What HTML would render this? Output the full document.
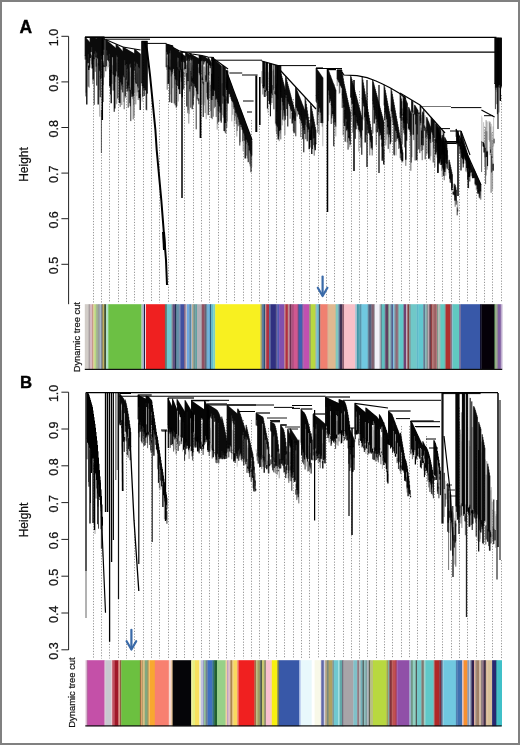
<!DOCTYPE html><html><head><meta charset="utf-8"><title>Dendrogram</title><style>html,body{margin:0;padding:0;background:#fff;overflow:hidden}svg{display:block;filter:blur(0.4px)}</style></head><body><svg width="520" height="745" viewBox="0 0 520 745">
<style>.tk{font-family:"Liberation Sans",Arial,sans-serif;font-size:12.5px;text-anchor:middle;fill:#111;stroke:#111;stroke-width:0.25px}.lb{font-family:"Liberation Sans",Arial,sans-serif;font-size:12px;text-anchor:middle;fill:#111;stroke:#111;stroke-width:0.25px}.dt{font-family:"Liberation Sans",Arial,sans-serif;font-size:9.4px;text-anchor:middle;fill:#111;stroke:#111;stroke-width:0.2px}.pl{font-family:"Liberation Sans",Arial,sans-serif;font-size:17.5px;font-weight:bold;fill:#000;stroke:#000;stroke-width:0.35px}.g{stroke:#959595;stroke-width:1;stroke-dasharray:1.2 1.57}</style>
<rect x="0" y="0" width="520" height="745" fill="#fff"/>
<line x1="68.6" y1="36.3" x2="68.6" y2="304.2" stroke="#222" stroke-width="1"/>
<line x1="61.39999999999999" y1="36.30" x2="68.6" y2="36.30" stroke="#222" stroke-width="1"/>
<text x="0" y="0" class="tk" transform="translate(57.8,37.50) rotate(-90)">1.0</text>
<line x1="61.39999999999999" y1="81.90" x2="68.6" y2="81.90" stroke="#222" stroke-width="1"/>
<text x="0" y="0" class="tk" transform="translate(57.8,83.10) rotate(-90)">0.9</text>
<line x1="61.39999999999999" y1="127.50" x2="68.6" y2="127.50" stroke="#222" stroke-width="1"/>
<text x="0" y="0" class="tk" transform="translate(57.8,128.70) rotate(-90)">0.8</text>
<line x1="61.39999999999999" y1="173.10" x2="68.6" y2="173.10" stroke="#222" stroke-width="1"/>
<text x="0" y="0" class="tk" transform="translate(57.8,174.30) rotate(-90)">0.7</text>
<line x1="61.39999999999999" y1="218.70" x2="68.6" y2="218.70" stroke="#222" stroke-width="1"/>
<text x="0" y="0" class="tk" transform="translate(57.8,219.90) rotate(-90)">0.6</text>
<line x1="61.39999999999999" y1="264.30" x2="68.6" y2="264.30" stroke="#222" stroke-width="1"/>
<text x="0" y="0" class="tk" transform="translate(57.8,265.50) rotate(-90)">0.5</text>
<text class="pl" x="19.6" y="32.6">A</text>
<text class="lb" transform="translate(28.2,164.5) rotate(-90)">Height</text>
<text class="dt" transform="translate(79.6,337.2) rotate(-90)">Dynamic tree cut</text>
<line x1="93.5" y1="52.0" x2="93.5" y2="302.5" class="g"/>
<line x1="101.5" y1="52.0" x2="101.5" y2="302.5" class="g"/>
<line x1="109.5" y1="56.4" x2="109.5" y2="302.5" class="g"/>
<line x1="118.5" y1="59.9" x2="118.5" y2="302.5" class="g"/>
<line x1="126.5" y1="62.6" x2="126.5" y2="302.5" class="g"/>
<line x1="134.5" y1="64.0" x2="134.5" y2="302.5" class="g"/>
<line x1="143.5" y1="56.4" x2="143.5" y2="302.5" class="g"/>
<line x1="151.5" y1="92.0" x2="151.5" y2="302.5" class="g"/>
<line x1="159.5" y1="100.0" x2="159.5" y2="302.5" class="g"/>
<line x1="168.5" y1="59.6" x2="168.5" y2="302.5" class="g"/>
<line x1="176.5" y1="64.4" x2="176.5" y2="302.5" class="g"/>
<line x1="184.5" y1="67.2" x2="184.5" y2="302.5" class="g"/>
<line x1="193.5" y1="69.2" x2="193.5" y2="302.5" class="g"/>
<line x1="201.5" y1="70.4" x2="201.5" y2="302.5" class="g"/>
<line x1="209.5" y1="72.1" x2="209.5" y2="302.5" class="g"/>
<line x1="218.5" y1="76.9" x2="218.5" y2="302.5" class="g"/>
<line x1="226.5" y1="82.9" x2="226.5" y2="302.5" class="g"/>
<line x1="234.5" y1="108.6" x2="234.5" y2="302.5" class="g"/>
<line x1="243.5" y1="131.0" x2="243.5" y2="302.5" class="g"/>
<line x1="251.5" y1="120.0" x2="251.5" y2="302.5" class="g"/>
<line x1="259.5" y1="112.0" x2="259.5" y2="302.5" class="g"/>
<line x1="268.5" y1="77.8" x2="268.5" y2="302.5" class="g"/>
<line x1="276.5" y1="80.1" x2="276.5" y2="302.5" class="g"/>
<line x1="284.5" y1="90.1" x2="284.5" y2="302.5" class="g"/>
<line x1="293.5" y1="99.1" x2="293.5" y2="302.5" class="g"/>
<line x1="301.5" y1="108.2" x2="301.5" y2="302.5" class="g"/>
<line x1="309.5" y1="117.2" x2="309.5" y2="302.5" class="g"/>
<line x1="318.5" y1="83.0" x2="318.5" y2="302.5" class="g"/>
<line x1="326.5" y1="125.0" x2="326.5" y2="302.5" class="g"/>
<line x1="334.5" y1="84.6" x2="334.5" y2="302.5" class="g"/>
<line x1="343.5" y1="88.5" x2="343.5" y2="302.5" class="g"/>
<line x1="351.5" y1="90.3" x2="351.5" y2="302.5" class="g"/>
<line x1="359.5" y1="91.2" x2="359.5" y2="302.5" class="g"/>
<line x1="367.5" y1="93.1" x2="367.5" y2="302.5" class="g"/>
<line x1="376.5" y1="96.1" x2="376.5" y2="302.5" class="g"/>
<line x1="384.5" y1="100.0" x2="384.5" y2="302.5" class="g"/>
<line x1="392.5" y1="104.5" x2="392.5" y2="302.5" class="g"/>
<line x1="401.5" y1="108.8" x2="401.5" y2="302.5" class="g"/>
<line x1="409.5" y1="113.8" x2="409.5" y2="302.5" class="g"/>
<line x1="417.5" y1="118.8" x2="417.5" y2="302.5" class="g"/>
<line x1="426.5" y1="127.0" x2="426.5" y2="302.5" class="g"/>
<line x1="434.5" y1="136.4" x2="434.5" y2="302.5" class="g"/>
<line x1="442.5" y1="145.0" x2="442.5" y2="302.5" class="g"/>
<line x1="451.5" y1="181.9" x2="451.5" y2="302.5" class="g"/>
<line x1="459.5" y1="152.0" x2="459.5" y2="302.5" class="g"/>
<line x1="467.5" y1="164.4" x2="467.5" y2="302.5" class="g"/>
<line x1="476.5" y1="189.3" x2="476.5" y2="302.5" class="g"/>
<line x1="484.5" y1="126.7" x2="484.5" y2="302.5" class="g"/>
<line x1="492.5" y1="132.0" x2="492.5" y2="302.5" class="g"/>
<line x1="501.5" y1="95.0" x2="501.5" y2="302.5" class="g"/>
<path d="M90.8 52.3V56.3M106.8 51.8V65.5M107.8 61.8V69.4M112.2 64.7V73.2M127.2 72.3V82.1M134.2 76.2V97.2M136.8 73.4V84.7M137.2 72.7V85.8M181.2 64.1V67.8M201.8 65.5V77.0M205.2 62.8V75.4M209.2 71.5V80.6M211.8 65.4V74.2M221.8 84.1V112.2M225.8 70.0V96.7M265.4 67.6V90.8M268.9 64.7V83.6M274.4 75.4V91.7M276.4 68.9V86.5M424.2 116.6V125.1M424.8 115.1V126.8M481.6 115.7V141.7M482.1 117.5V142.3M487.6 131.4V151.9M492.6 133.9V161.2" stroke="#bbb" stroke-width="0.6" fill="none"/>
<path d="M96.8 55.8V59.3M102.2 60.1V61.6M103.8 51.7V66.1M115.8 75.1V82.0M130.8 76.5V90.6M170.2 59.5V68.5M170.8 69.8V94.4M172.8 70.0V88.2M174.8 75.5V84.7M178.2 60.9V67.5M186.2 62.7V71.2M202.2 65.1V78.0M203.8 66.8V83.8M204.8 66.9V75.2M204.8 74.7V102.6M205.8 67.7V76.0M267.9 71.5V91.6M268.4 72.4V91.5M272.9 71.0V86.4M283.8 109.7V116.9M290.8 109.1V110.8M296.2 107.1V115.7M299.8 118.4V123.5M302.2 124.7V131.1M345.8 118.2V132.4M385.2 111.8V113.3M389.8 134.3V152.9M402.8 160.2V163.0M402.2 107.8V117.5M413.2 107.9V114.5M419.2 113.4V115.3M425.2 115.4V128.0M450.8 179.3V181.0M457.2 201.0V208.0M437.8 150.4V171.2M465.2 156.9V158.1M468.8 167.8V188.5M460.8 148.5V151.6M483.6 122.2V143.0M491.6 132.7V156.5M493.1 126.4V164.2M493.6 117.5V141.4" stroke="#999" stroke-width="0.6" fill="none"/>
<path d="M99.8 70.7V116.7M101.8 59.1V68.1M181.2 67.3V81.9M194.2 83.4V95.7M224.8 96.2V132.4M232.2 100.6V107.0M232.8 101.3V114.8M263.9 86.7V96.7M283.2 104.9V115.8M298.2 111.0V112.5M319.2 107.8V135.1M349.8 140.3V147.2M360.2 132.1V135.3M378.2 123.9V126.7M394.8 126.0V155.2M434.2 137.4V141.1M446.2 158.6V159.9M445.8 162.5V175.7M467.8 164.0V170.2M480.2 190.7V195.5M484.6 146.1V167.3" stroke="#999" stroke-width="1.0" fill="none"/>
<path d="M116.2 70.9V104.4M124.8 75.7V78.8M142.2 85.3V101.7M144.8 87.5V89.9M185.8 68.6V76.9M208.8 74.5V110.8M209.2 80.1V92.0M223.8 96.2V116.7M230.8 95.7V97.1M231.8 100.1V121.3M311.2 121.1V143.2M347.8 128.7V149.7M358.2 125.3V131.8M370.2 139.4V146.3M396.2 130.4V155.4M420.8 122.6V146.9M476.2 184.7V190.0M476.8 184.7V189.9" stroke="#999" stroke-width="0.8" fill="none"/>
<path d="M120.8 81.5V82.6M134.8 78.6V92.6M185.2 68.1V76.5M201.8 76.5V104.4M203.8 83.3V84.8M206.8 81.1V92.9M210.2 85.0V99.4M227.2 101.9V121.4M243.8 132.9V138.0M250.2 152.0V166.4M284.8 115.1V135.3M306.2 117.3V119.0M307.8 127.2V132.3M310.2 137.6V140.2M349.2 137.5V139.1M373.2 103.3V104.7M379.8 130.7V135.5M399.2 141.4V143.4M411.8 111.4V157.3M412.2 113.0V114.6M417.8 112.8V150.0M425.8 128.0V137.9M437.2 142.8V147.6M444.2 147.9V155.1M455.2 196.2V206.8M439.2 154.9V157.1M441.8 163.7V170.9M465.8 159.0V171.6M473.2 177.1V178.0M498.9 86.8V112.5" stroke="#999" stroke-width="1.3" fill="none"/>
<path d="M89.2 66.9V87.7M125.8 78.7V98.1M134.2 96.7V116.4M175.8 79.1V80.7M205.2 74.9V113.1M210.8 84.8V111.1M229.2 93.2V94.6M229.8 93.1V93.9M243.2 130.8V151.2M266.4 89.3V95.9M280.2 128.6V133.5M301.2 120.1V121.0M329.2 94.4V103.2M337.8 79.1V81.2M385.8 113.8V145.5M409.8 128.8V129.4M410.2 131.7V146.1M429.8 138.5V141.0M440.8 145.9V155.3M442.2 149.0V177.1M443.2 153.7V174.8M464.2 153.7V157.3M486.1 147.0V175.5M499.9 87.1V100.3" stroke="#888" stroke-width="1.0" fill="none"/>
<path d="M90.8 55.8V61.0M128.8 84.9V90.8M136.8 84.2V96.1M213.8 89.5V100.5M219.2 106.0V112.2M234.2 106.5V126.7M237.8 116.9V124.1M241.8 124.8V125.3M267.9 91.1V112.8M322.8 122.6V146.2M344.2 106.5V122.4M359.2 129.3V139.0M364.2 106.6V120.7M374.8 109.3V117.4M375.8 115.2V131.9M404.2 122.8V134.8M445.2 152.8V159.4M449.2 172.6V175.0M442.2 163.1V168.0M471.8 171.5V177.5M474.8 177.6V185.2M489.6 140.8V141.7M493.6 140.9V146.5M496.4 87.2V92.1M500.9 87.7V88.5" stroke="#888" stroke-width="0.6" fill="none"/>
<path d="M93.8 58.6V60.5M116.8 71.8V103.7M139.8 94.0V100.4M166.8 67.5V69.9M178.2 67.0V101.6M189.2 84.9V114.0M199.8 72.9V74.7M217.2 99.1V129.6M219.8 105.3V106.0M227.2 88.5V111.0M236.8 113.1V136.6M245.8 138.7V149.0M276.2 124.9V131.4M293.2 117.6V130.9M328.8 90.0V115.1M342.8 98.0V101.4M386.2 116.9V139.8M430.2 138.2V160.4M438.2 144.3V153.2M492.6 160.7V189.7" stroke="#888" stroke-width="0.8" fill="none"/>
<path d="M98.8 64.6V66.2M199.2 72.1V72.7M213.8 75.9V92.3M214.2 89.0V108.2M230.2 96.3V97.2M237.2 114.2V131.1M247.2 141.2V158.5M290.2 107.0V118.8M308.2 129.1V129.7M343.8 107.0V123.5M392.8 117.1V118.3M395.8 130.2V130.9M410.8 135.2V170.7M442.8 151.4V154.8M443.8 154.1V170.9M447.8 162.6V168.3M454.2 194.5V195.5" stroke="#888" stroke-width="1.3" fill="none"/>
<path d="M420.0 106.5H451.0" stroke="#777" stroke-width="1.0" fill="none"/>
<path d="M88.2 57.4V66.9M95.2 54.1V58.7M112.8 65.4V74.1M116.8 62.6V72.3M117.2 58.8V72.6M129.8 71.6V88.0M130.2 65.2V90.4M139.2 69.5V90.3M166.8 57.6V68.0M177.8 62.1V67.8M187.2 63.4V78.9M188.8 67.8V86.8M191.8 67.4V76.7M192.2 65.2V78.7M204.2 66.4V72.6M207.8 65.9V83.1M212.2 67.0V74.9M264.9 72.1V90.3M403.2 112.6V119.2M414.2 104.5V114.2M418.2 111.6V113.8M418.8 111.8V113.5M419.8 113.7V116.2M421.2 117.8V128.2M422.2 112.6V137.3M444.2 138.9V148.4M444.8 141.0V149.3M457.8 200.6V210.2M485.6 127.1V148.6M487.1 121.5V150.5M489.1 121.2V140.0M489.6 122.8V141.3M490.6 126.6V150.0M491.1 123.8V154.4" stroke="#777" stroke-width="0.6" fill="none"/>
<path d="M92.8 58.0V84.1M104.2 66.5V77.4M121.8 85.0V105.1M135.8 82.1V104.4M137.2 85.3V92.3M186.2 70.7V85.2M193.8 82.8V97.4M239.2 121.4V125.4M240.2 124.3V142.3M333.2 113.6V123.3M373.8 106.9V110.1M392.2 113.5V120.9M416.2 114.6V116.0M439.8 140.2V140.8M440.8 157.7V162.5M497.9 86.1V87.4" stroke="#666" stroke-width="0.8" fill="none"/>
<path d="M123.8 76.2V101.9M143.8 87.4V91.1M170.2 68.0V69.0M183.2 68.6V76.1M201.2 75.4V76.2M204.2 72.1V105.4M206.2 79.4V119.2M251.8 154.9V167.1M277.2 126.1V135.8M282.2 101.1V125.4M303.2 127.5V128.0M308.8 128.5V131.2M335.8 126.1V136.4M339.2 81.2V94.1M358.8 129.2V151.5M451.2 182.5V183.3M453.8 193.4V194.7M445.2 158.9V160.2" stroke="#666" stroke-width="0.6" fill="none"/>
<path d="M133.2 93.7V119.4M180.8 69.1V77.5M187.8 80.5V113.2M212.2 84.3V119.2M213.2 89.1V116.7M247.8 142.0V143.1M262.9 85.7V94.5M285.2 119.0V119.6M300.8 119.7V137.1M320.2 112.3V123.0M328.2 89.6V121.1M372.2 149.2V155.5M381.8 138.1V146.6M389.2 132.9V134.4M391.2 110.6V118.5M399.8 144.0V147.7M423.2 144.8V145.3M472.2 175.1V175.8M474.2 176.8V178.3M478.8 193.0V193.7M481.6 141.2V172.0M496.9 85.0V104.2" stroke="#666" stroke-width="1.0" fill="none"/>
<path d="M197.8 93.3V94.2M198.8 98.4V104.3M275.9 84.9V85.4M278.8 130.1V136.5M305.8 119.0V139.3M366.8 120.0V121.2M404.2 109.9V115.7M415.2 113.4V160.6M452.2 187.1V187.7M455.8 199.3V200.7M461.2 142.2V143.8M466.2 159.8V160.6M459.8 145.4V154.0M466.8 161.4V163.3M475.8 183.7V185.5M479.2 194.9V197.6M491.6 156.0V172.4" stroke="#666" stroke-width="1.3" fill="none"/>
<path d="M108.2 61.2V67.2M126.8 67.6V82.1M134.8 65.6V79.1M135.2 68.6V80.0M167.8 55.4V65.8M182.2 61.3V69.9M183.2 62.9V69.1M186.8 65.0V73.6M190.8 62.8V71.5M198.2 67.4V98.7M212.8 67.1V77.1M222.2 83.0V115.1M226.2 77.1V100.6M226.8 79.8V98.4M261.9 71.1V83.5M273.4 69.5V89.1M402.8 108.8V115.0M407.8 109.8V123.7M421.8 114.9V131.0M441.8 139.8V149.6M444.8 145.8V159.4M445.2 141.9V153.3M446.2 146.0V159.1M447.8 155.3V163.1M448.8 160.4V169.7M485.1 131.1V148.4M486.1 120.1V147.5M486.6 131.2V151.9M490.1 121.8V147.8M492.1 139.8V157.1" stroke="#555" stroke-width="0.6" fill="none"/>
<path d="M87.2 60.7V66.5M99.2 69.2V90.1M112.8 73.6V90.5M115.2 75.9V76.5M118.2 76.5V78.4M132.8 95.3V99.1M133.8 95.8V105.2M188.8 86.3V123.6M209.8 81.6V98.1M223.2 94.5V117.9M279.2 130.5V141.2M281.2 95.7V98.0M322.2 120.9V126.6M337.2 78.4V86.1M351.2 97.2V121.1M356.2 116.6V122.5M367.8 123.2V125.0M401.8 115.3V157.9M405.2 115.8V124.3M427.2 130.1V131.6M430.8 142.3V156.3M440.2 158.6V165.0M487.1 150.0V169.7M490.1 147.3V155.1" stroke="#444" stroke-width="0.6" fill="none"/>
<path d="M88.2 66.4V86.7M172.2 71.4V74.3M175.2 78.3V105.3M177.2 69.2V80.5M244.8 135.0V140.9M246.2 138.7V144.1M264.4 85.8V89.5M268.4 91.0V100.8M294.2 117.3V132.8M298.8 113.5V114.0M316.8 97.9V103.1M341.8 87.2V88.2M368.2 128.0V132.9M398.8 139.7V148.9M419.8 115.7V153.1M420.2 120.2V125.4M421.2 127.7V151.1M428.2 132.2V153.3M495.4 86.9V109.1" stroke="#444" stroke-width="1.0" fill="none"/>
<path d="M91.8 55.9V64.4M95.2 58.2V71.8M103.2 63.2V85.1M171.2 71.0V76.4M180.2 69.3V72.2M188.2 80.6V110.1M216.2 98.1V117.0M234.8 107.2V120.4M235.2 109.0V116.4M244.2 132.9V140.1M246.8 139.4V155.7M249.8 149.8V164.2M271.9 97.3V103.0M276.8 123.5V134.1M280.8 129.6V139.4M284.2 112.2V121.0M294.8 120.2V133.4M297.2 109.6V116.6M347.2 127.6V142.4M379.2 128.7V136.1M403.8 122.4V133.1M405.8 132.3V165.9M422.2 136.8V160.2M435.2 139.4V142.3M437.2 149.2V157.6M460.2 148.7V149.7" stroke="#444" stroke-width="0.8" fill="none"/>
<path d="M117.8 75.6V98.5M182.8 69.9V90.0M191.8 76.2V81.8M202.8 79.1V83.6M220.2 106.4V112.8M241.2 126.5V127.0M304.2 129.2V129.9M345.2 113.1V141.7M350.2 142.9V144.7M371.2 142.5V148.5M395.2 128.3V142.1M424.2 124.6V128.0M466.2 160.4V163.4" stroke="#444" stroke-width="1.3" fill="none"/>
<path d="M101.4 110.0V153.0" stroke="#333" stroke-width="0.8" fill="none"/>
<path d="M85.0 37.3H496.5M180.0 52.2H495.0" stroke="#000" stroke-width="1.2" fill="none"/>
<path d="M104.0 39.2H150.0M144.0 43.4H166.5M212.0 60.2H262.0M276.0 65.6H316.0M316.0 68.5H342.0M451.0 107.6H481.4M440.0 128.6H450.0M450.0 131.0H461.0M446.7 142.3H459.6M484.0 115.7H493.0M229.4 73.0H242.2M242.0 75.0H257.6M243.0 101.0H253.6M247.0 112.0H252.0M445.0 141.5H458.0M447.0 143.5H456.0" stroke="#000" stroke-width="1.0" fill="none"/>
<path d="M85.2 37.0V55.9M85.8 37.6V55.9M86.2 38.2V59.4M86.8 38.8V61.8M87.2 39.4V61.2M87.8 39.9V63.3M88.2 40.5V54.2M88.8 41.1V63.0M89.2 41.7V67.4M89.8 42.3V67.7M90.2 37.0V54.4M90.8 37.1V52.1M91.2 37.2V51.9M91.8 37.3V47.1M92.2 37.5V57.2M92.8 37.6V58.5M93.2 37.7V58.3M93.8 37.8V59.1M94.2 37.9V58.8M94.8 38.0V53.8M95.2 38.1V51.3M95.8 38.2V57.6M96.2 38.4V57.1M96.8 38.5V52.6M96.8 58.8V85.6M97.2 37.0V56.0M97.2 55.7V58.3M97.8 37.1V58.6M98.2 37.1V63.9M98.8 37.2V65.1M99.2 37.2V69.7M99.8 37.3V71.2M100.2 37.3V76.7M100.2 76.2V97.2M100.8 37.4V79.0M101.2 37.0V55.7M101.8 37.2V59.6M102.2 37.3V59.1M102.8 37.5V53.7M103.2 37.6V55.0M103.8 37.8V49.8M104.2 37.9V67.0M105.8 39.6V67.1M106.2 40.0V66.2M106.8 40.4V50.3M107.2 40.9V55.4M107.8 41.3V60.3M108.2 41.7V60.5M108.8 42.1V61.5M109.2 42.5V53.9M109.8 43.0V69.8M110.2 43.4V72.6M110.8 43.8V71.2M111.2 44.2V70.6M111.8 44.6V72.9M112.2 45.1V57.0M112.8 45.5V57.3M113.2 45.9V74.6M113.8 46.3V74.8M114.2 46.7V73.5M114.2 73.0V111.8M114.8 47.2V74.7M115.2 47.6V76.4M115.8 48.0V75.6M116.2 44.1V71.4M116.8 44.7V55.5M117.2 45.2V57.1M117.8 45.8V76.1M118.2 46.3V77.0M118.8 46.9V75.7M119.2 47.4V80.0M119.8 48.0V80.5M120.2 48.5V79.1M120.8 49.1V82.0M121.2 49.7V82.6M121.8 50.2V85.5M122.2 50.8V83.7M122.8 51.3V86.8M122.8 86.3V92.4M123.2 47.0V75.4M123.8 47.3V76.7M124.2 47.6V77.4M124.8 47.9V60.1M125.2 48.2V65.2M125.2 78.7V96.4M125.8 48.5V79.2M126.2 48.8V79.6M126.8 49.1V64.2M127.2 49.4V68.7M127.2 81.6V91.5M127.8 49.7V83.8M127.8 83.3V88.5M128.2 50.0V85.4M128.8 50.3V85.4M129.2 50.6V88.0M129.8 50.9V64.5M130.2 51.2V63.6M130.2 89.9V106.3M130.8 51.5V67.5M131.2 51.7V90.0M131.8 52.0V93.3M132.2 52.3V93.7M132.8 52.6V95.8M133.2 52.9V94.2M133.8 53.2V96.3M134.2 53.5V70.5M134.8 49.0V61.6M135.2 49.4V66.5M135.8 49.9V82.6M136.2 50.3V83.0M136.2 82.5V84.1M136.8 50.7V62.7M137.2 51.2V64.0M137.8 51.6V86.5M138.2 52.1V88.3M138.8 52.5V67.0M138.8 90.7V91.7M139.2 52.9V68.4M139.8 53.4V94.5M140.2 53.8V94.8M141.8 41.4V83.0M142.2 41.4V85.8M142.8 41.4V85.5M142.8 85.0V96.7M143.2 41.4V86.1M143.8 41.4V87.9M144.2 41.4V89.8M144.2 89.3V96.0M144.8 41.4V88.0M145.2 41.4V90.0M145.8 41.4V90.6M146.2 41.4V93.5M146.2 93.0V109.8M146.8 41.4V92.5M147.2 41.4V93.2M166.2 44.1V67.2M166.8 44.2V51.9M167.2 44.4V54.7M167.8 44.5V54.2M168.2 44.6V66.2M168.8 44.8V68.8M169.2 44.9V69.6M169.8 45.1V53.3M169.8 66.7V102.2M170.2 45.2V50.5M170.8 45.4V70.3M171.2 45.5V71.5M171.8 45.6V72.1M171.8 71.6V102.9M172.2 45.8V71.9M172.8 45.9V70.5M173.2 47.5V68.6M173.8 47.9V68.9M174.2 48.3V72.7M174.8 48.7V76.0M175.2 49.1V78.8M175.8 49.5V79.6M176.2 49.8V84.1M176.8 50.2V84.6M177.2 49.8V69.7M177.8 50.3V57.4M177.8 67.3V86.0M178.2 50.9V58.0M178.8 51.4V70.0M179.2 51.8V67.2M179.8 52.2V71.0M180.2 52.6V69.8M180.8 52.9V69.6M181.2 53.3V60.7M181.8 53.7V62.0M181.8 69.2V81.6M182.2 54.0V59.7M182.8 54.4V70.4M183.2 54.7V60.6M183.8 55.1V62.2M184.2 55.5V62.7M184.8 55.8V69.0M185.2 56.2V68.6M185.8 52.4V69.1M186.2 52.7V56.6M186.8 53.0V60.8M186.8 73.1V106.6M187.2 53.3V60.3M187.8 53.6V81.0M188.2 53.9V81.1M188.8 54.2V58.8M189.2 54.4V60.9M189.8 54.7V88.9M190.2 53.6V57.5M190.8 53.9V59.8M191.2 54.2V74.2M191.2 73.7V86.3M191.8 54.5V60.5M192.2 54.9V59.3M192.2 78.2V109.2M192.8 55.1V80.3M193.2 55.4V81.0M193.2 80.5V104.9M193.8 55.7V83.3M194.2 56.0V83.9M194.8 56.2V86.4M195.2 56.5V85.8M195.8 56.8V86.9M196.2 57.1V90.3M196.8 57.4V91.4M197.2 57.6V93.6M197.8 57.9V93.8M198.2 58.2V63.6M198.8 58.5V64.0M199.2 55.1V72.6M199.8 55.2V73.4M200.2 55.3V75.4M200.8 55.4V73.7M200.8 73.2V74.6M201.2 55.6V60.6M201.8 55.7V61.3M202.2 55.8V60.4M202.2 77.5V80.0M202.8 56.0V79.6M203.2 56.2V61.2M203.2 81.7V117.0M203.8 56.3V64.5M204.2 56.1V61.0M204.8 56.5V62.4M205.2 56.9V60.8M205.8 57.3V61.0M206.2 57.7V79.9M206.8 58.1V81.6M207.2 58.5V62.7M207.8 58.9V63.4M208.2 57.0V74.2M208.2 73.7V115.1M208.8 57.9V75.0M209.2 58.8V65.4M209.8 59.7V65.0M210.2 60.5V68.2M210.8 61.4V66.2M211.2 62.3V90.7M211.8 57.3V61.5M212.2 57.6V65.7M212.8 57.9V66.3M213.2 58.2V77.7M213.8 58.5V76.4M212.2 57.7V84.8M212.8 58.1V87.8M212.8 87.3V88.8M213.2 58.6V89.6M213.8 59.0V90.0M214.2 59.5V89.5M214.8 59.9V90.9M215.2 60.3V93.4M215.8 60.8V95.4M216.2 61.2V98.6M216.8 61.7V98.3M217.2 62.1V99.6M217.8 62.6V102.1M218.2 63.0V104.2M218.8 63.4V101.9M218.8 101.4V121.7M219.2 63.9V106.5M219.8 64.3V105.8M220.2 64.8V106.9M220.8 65.2V109.6M221.2 65.6V109.1M221.2 108.6V122.7M222.8 65.2V95.7M223.2 65.8V95.0M223.8 66.3V96.7M224.2 66.8V95.6M224.8 67.4V96.7M225.2 67.9V99.7M227.2 70.1V102.4M227.8 70.6V103.2M226.2 70.7V83.1M226.2 82.6V87.8M226.8 72.1V84.5M227.2 73.5V89.0M227.8 74.9V89.1M228.2 76.3V89.7M228.2 89.2V103.5M228.8 77.7V92.2M229.2 79.1V93.7M229.8 80.5V93.6M230.2 81.9V96.8M230.8 83.3V96.2M231.2 84.7V98.5M231.8 86.1V100.6M232.2 87.5V101.1M232.8 88.9V101.8M233.2 90.3V102.6M233.8 91.7V104.4M234.2 93.1V107.0M234.8 94.5V107.7M235.2 95.9V109.5M235.8 97.3V112.9M236.2 98.7V111.9M236.8 98.9V113.6M237.2 100.5V114.7M237.8 102.0V117.4M238.2 103.5V116.4M238.8 105.0V118.8M239.2 106.5V121.9M239.8 108.0V123.3M240.2 109.5V124.8M240.8 109.7V124.2M241.2 111.1V127.0M241.8 112.5V125.3M242.2 113.9V127.6M242.8 115.3V128.9M243.2 116.7V131.3M243.8 118.1V133.4M244.2 119.5V133.4M244.8 120.9V135.5M245.2 122.3V135.0M245.8 123.7V139.2M246.2 125.1V139.2M246.8 126.5V139.9M247.2 127.9V141.7M247.8 129.3V142.5M248.2 130.7V144.9M248.2 144.4V162.2M248.8 132.1V145.3M249.2 133.5V150.2M249.8 134.9V150.3M250.2 136.3V152.5M250.8 137.7V154.1M251.2 139.1V156.2M251.8 140.5V155.4M262.9 61.4V86.2M263.4 61.5V85.6M263.9 61.6V87.2M264.4 61.8V86.3M265.4 90.3V91.9M265.9 62.2V89.8M266.4 62.3V89.8M266.9 62.5V89.4M266.9 88.9V91.0M267.4 62.6V90.1M267.4 89.6V108.6M269.4 63.2V88.2M269.4 87.7V104.3M269.9 63.3V87.9M270.4 63.5V90.3M270.4 89.8V116.3M270.9 63.6V93.8M271.4 63.8V93.3M271.9 63.9V97.8M273.9 64.5V87.5M275.4 64.9V94.7M276.9 83.9V111.6M277.4 65.4V85.3M277.9 65.6V84.4M277.9 83.9V99.1M276.2 65.6V125.4M276.8 65.6V124.0M277.2 65.6V126.6M277.8 65.6V126.8M278.2 65.6V127.4M278.8 65.6V130.6M279.2 65.6V131.0M279.8 65.6V130.1M280.2 65.6V129.1M280.8 65.6V130.1M280.2 70.3V89.7M280.8 72.2V92.0M281.2 74.1V96.2M281.8 76.0V96.7M282.2 77.9V101.6M282.8 79.8V102.0M283.2 81.7V105.4M283.8 83.6V110.2M284.2 85.5V112.7M284.8 87.4V115.6M285.2 89.3V119.5M285.8 76.2V94.5M286.2 78.1V95.1M286.8 80.1V97.5M286.8 97.0V109.0M287.2 82.0V100.5M287.8 83.9V100.0M287.8 99.5V126.5M288.2 85.8V100.6M288.2 100.1V102.2M288.8 87.7V103.7M289.2 89.6V104.6M289.8 91.5V106.1M289.8 105.6V106.1M290.2 93.4V107.5M290.8 95.4V109.6M291.2 97.3V108.8M291.8 99.2V111.0M292.2 101.1V113.5M292.8 103.0V116.4M292.8 115.9V120.2M293.2 104.9V118.1M293.8 106.8V118.6M294.2 108.7V117.8M294.8 110.7V120.7M295.2 112.6V120.8M295.8 87.1V105.8M296.2 88.3V107.6M296.8 89.6V108.3M297.2 90.9V110.1M297.8 92.2V111.1M298.2 93.5V111.5M298.8 94.8V114.0M299.2 96.1V114.9M299.2 114.4V115.0M299.8 97.3V118.9M300.2 98.6V116.7M300.8 99.9V120.2M301.2 101.2V120.6M301.8 102.5V123.2M302.2 103.8V125.2M302.8 105.1V124.6M302.8 124.1V139.2M303.2 106.3V128.0M303.8 107.6V129.6M303.8 129.1V152.3M304.2 108.9V129.7M304.8 110.2V134.0M305.2 97.4V115.6M305.8 100.6V119.5M306.2 103.9V117.8M306.8 107.1V119.8M307.2 110.4V122.7M307.2 122.2V141.3M307.8 113.7V127.7M308.2 116.9V129.6M308.8 120.2V129.0M309.2 123.5V132.0M309.8 126.7V135.0M310.2 130.0V138.1M310.8 103.3V119.7M311.2 105.9V121.6M311.8 108.6V127.2M312.2 111.2V126.1M312.8 113.8V128.4M313.2 116.5V133.1M313.2 132.6V138.5M313.8 119.1V135.3M314.2 121.7V137.7M314.8 124.3V138.0M315.2 127.0V142.8M315.8 129.6V144.0M316.2 68.0V96.0M316.2 95.5V101.7M316.8 68.7V98.4M317.2 69.5V98.7M317.8 70.2V100.1M318.2 71.0V104.3M318.8 71.7V106.1M318.8 105.6V111.9M319.2 72.4V108.3M319.8 73.2V107.7M320.2 73.9V112.8M320.8 74.7V112.3M321.2 75.4V115.2M321.8 76.1V117.8M321.8 117.3V123.1M322.2 76.9V121.4M322.8 77.6V123.1M328.2 69.6V90.1M328.8 70.9V90.5M329.2 72.3V94.9M329.8 73.6V96.0M329.8 95.5V102.6M330.2 75.0V98.0M330.8 76.3V100.9M331.2 77.7V105.0M331.8 79.0V106.0M332.2 80.4V107.8M332.8 81.7V111.5M333.2 83.1V114.1M333.8 84.4V114.0M333.8 113.5V146.3M334.2 85.8V116.1M334.8 87.1V118.4M335.2 88.5V122.4M335.8 89.8V126.6M337.2 70.0V78.9M337.8 70.0V79.6M338.2 70.0V80.2M338.8 70.0V82.4M339.2 70.0V81.7M339.8 70.0V83.1M340.2 70.0V85.5M340.8 70.0V85.8M341.2 70.0V87.2M341.8 70.0V87.7M342.2 72.4V95.2M342.8 75.4V98.5M343.2 78.4V102.6M343.8 81.4V107.5M344.2 84.1V107.0M344.8 86.4V110.5M345.2 88.6V113.6M345.8 90.9V118.7M346.2 93.2V119.4M346.8 95.5V122.2M347.2 97.8V128.1M347.8 100.1V129.2M348.2 102.4V131.5M348.8 104.7V136.5M349.2 106.9V138.0M349.8 109.2V140.8M350.2 111.5V143.4M350.8 75.3V97.5M351.2 77.2V97.7M351.8 79.0V100.2M352.2 80.9V103.8M352.8 82.8V103.7M353.2 84.6V107.1M353.2 106.6V115.7M353.8 86.5V110.7M354.2 88.4V109.7M354.8 90.2V112.3M355.2 92.1V113.2M355.2 112.7V138.8M355.8 94.0V115.1M355.8 114.6V129.4M356.2 95.8V117.1M356.8 97.7V120.7M357.2 99.6V120.4M357.8 101.6V125.5M358.2 103.5V125.8M358.8 105.5V129.7M359.2 107.4V129.8M359.8 109.4V131.5M360.2 111.3V132.6M360.8 113.3V137.8M361.2 115.2V136.1M361.8 117.2V138.4M361.8 137.9V154.8M362.2 76.7V98.9M362.2 98.4V130.4M362.8 79.6V100.3M363.2 82.5V103.4M363.8 85.5V106.0M364.2 88.4V107.1M364.8 91.3V112.9M365.2 94.2V114.6M365.8 97.2V116.5M366.2 100.1V116.6M366.8 103.0V120.5M367.2 106.0V123.8M367.8 109.0V123.7M368.2 112.0V128.5M368.8 115.0V132.5M369.2 118.0V133.4M369.8 121.0V135.1M370.2 124.0V139.9M370.8 127.0V141.9M371.2 130.0V143.0M371.8 133.0V147.4M372.2 136.0V149.7M372.8 79.8V100.8M373.2 81.7V103.8M373.8 83.5V107.4M374.2 85.4V106.6M374.8 87.3V109.8M375.2 89.1V112.8M375.8 91.0V115.7M376.2 92.9V118.3M376.8 94.8V119.4M377.2 96.7V120.8M377.8 98.6V121.7M378.2 100.5V124.4M378.8 102.4V126.3M378.8 125.8V128.7M379.2 104.4V129.2M379.8 106.3V131.2M380.2 108.2V132.9M380.8 110.1V135.1M381.2 112.0V139.2M381.8 113.9V138.6M382.2 115.8V144.0M382.8 117.7V144.8M383.2 119.7V146.4M383.8 121.6V149.7M384.2 84.8V105.5M384.8 87.5V108.6M384.8 108.1V120.2M385.2 90.1V112.3M385.8 92.8V114.3M386.2 95.4V117.4M386.8 98.1V119.0M387.2 100.7V122.1M387.8 103.4V125.6M388.2 106.0V125.5M388.8 108.6V129.8M389.2 111.3V133.4M389.8 113.9V134.8M390.2 116.6V136.6M390.2 136.1V144.2M390.8 119.3V141.1M390.8 140.6V142.3M391.2 88.4V111.1M391.8 91.2V111.0M392.2 93.9V114.0M392.8 96.7V117.6M393.2 99.4V119.9M393.2 119.4V125.1M393.8 102.2V119.2M394.2 104.9V124.6M394.8 107.7V126.5M395.2 110.4V128.8M395.8 113.2V130.7M396.2 115.9V130.9M396.8 118.7V133.0M397.2 121.4V134.7M397.2 134.2V138.9M397.8 124.2V137.1M398.2 126.9V138.0M398.8 129.7V140.2M399.2 132.5V141.9M399.8 135.3V144.5M400.2 138.2V148.1M400.8 141.0V151.8M401.2 143.9V153.0M401.2 152.5V153.0M401.8 146.7V153.4M401.8 152.9V160.6M402.2 149.6V158.3M402.8 152.4V160.7M403.2 96.3V118.1M403.8 98.4V122.9M404.2 100.5V123.3M404.8 102.6V128.5M405.2 104.7V130.9M405.8 106.8V132.8M400.2 93.2V113.4M400.2 112.9V118.2M400.8 95.8V113.2M401.2 98.5V114.9M401.2 114.4V120.6M401.8 101.2V115.8M403.8 112.0V119.8M404.2 95.5V110.4M404.8 96.8V115.0M405.2 98.1V116.3M405.8 99.4V117.7M406.2 100.6V118.6M406.2 118.1V140.4M406.8 101.9V119.9M407.2 103.2V123.5M408.8 107.0V127.5M408.8 127.0V128.4M409.2 108.3V130.1M409.8 109.5V129.3M410.2 110.8V132.2M410.8 112.1V135.7M411.2 113.3V133.8M411.8 100.0V111.9M412.2 100.9V113.5M412.8 101.7V111.6M414.8 105.0V114.4M415.2 105.8V113.9M415.8 106.7V112.8M415.8 112.3V124.4M416.2 107.5V115.1M416.8 108.3V115.5M417.2 109.1V112.3M417.2 111.8V134.5M417.8 110.0V113.3M419.2 112.4V113.9M420.2 105.3V120.7M420.8 106.5V123.1M422.8 111.6V137.9M423.2 112.8V145.3M423.8 109.2V123.7M424.8 126.3V130.8M426.8 117.0V132.6M427.2 118.3V130.6M427.8 119.6V134.8M428.2 120.9V132.7M428.8 122.2V134.5M429.2 123.5V136.0M429.8 124.8V139.0M430.2 126.1V138.7M430.8 127.4V142.8M431.2 117.6V130.4M431.8 118.2V132.4M432.2 118.9V131.5M432.8 119.5V134.9M433.2 120.2V137.3M433.8 120.8V135.7M434.2 121.4V137.9M435.8 123.4V140.1M436.2 124.0V140.8M436.2 140.3V152.3M436.8 124.7V142.8M437.2 125.3V143.3M437.8 125.9V144.7M438.2 126.6V144.8M438.8 127.2V146.8M438.8 146.3V160.2M439.2 127.9V147.2M439.8 127.1V140.7M440.2 128.7V143.2M440.8 130.3V146.4M441.8 149.1V154.6M442.2 135.0V149.5M442.8 136.6V151.9M443.2 138.2V154.2M443.8 139.7V154.6M444.2 141.3V158.8M444.8 158.9V169.2M443.2 131.1V141.5M443.8 133.5V144.9M446.8 147.9V158.8M447.2 150.2V163.1M448.8 169.2V170.1M449.2 159.8V173.1M449.8 162.2V175.9M450.2 164.6V175.3M450.2 174.8V182.6M450.8 167.0V179.8M451.2 169.4V183.0M451.8 171.8V183.1M452.2 174.2V187.6M452.8 188.9V190.3M454.2 183.7V195.0M454.8 186.1V200.7M455.2 184.7V196.7M455.8 187.3V199.8M456.2 189.8V200.9M437.2 127.3V149.7M437.8 128.7V150.9M438.2 130.0V154.2M438.8 131.4V155.1M438.8 154.6V162.1M439.2 132.7V155.4M439.8 134.1V157.9M439.8 157.4V161.7M440.2 135.4V159.1M440.8 136.7V158.2M441.2 138.1V160.6M441.8 139.4V164.2M442.2 140.8V163.6M442.8 142.1V167.3M443.2 143.5V167.4M443.8 144.8V168.7M443.8 168.2V176.0M444.2 146.2V169.2M444.8 137.1V160.4M445.2 138.1V159.4M445.8 139.1V163.0M446.2 140.1V161.9M446.8 141.2V164.1M461.2 131.7V142.7M461.8 133.5V143.8M462.2 135.2V146.9M462.8 137.0V148.9M463.2 138.8V150.4M463.2 149.9V167.5M463.8 140.6V151.5M464.2 142.4V155.7M464.8 144.2V155.7M465.2 145.9V157.4M465.8 147.7V159.5M466.2 149.5V160.3M466.8 151.3V164.2M467.2 153.1V163.5M467.8 154.9V164.8M468.2 156.6V165.7M468.8 158.4V168.3M469.2 160.2V172.2M469.8 162.0V174.3M456.2 129.6V136.8M456.8 130.9V137.1M457.2 132.3V138.8M457.2 138.3V143.0M457.8 133.7V143.4M458.2 135.0V141.3M458.8 136.4V144.7M459.2 137.7V146.0M459.8 139.1V145.9M460.2 140.5V149.2M460.8 141.8V149.0M461.2 143.2V152.7M461.8 144.6V152.4M462.2 145.9V153.5M462.8 147.3V154.7M463.2 148.7V157.9M463.2 157.4V163.6M463.8 146.4V156.1M464.2 147.6V154.2M464.8 148.8V158.4M465.2 150.0V159.1M465.2 158.6V160.3M465.8 151.2V159.1M466.2 152.4V160.9M466.8 153.6V161.9M467.2 154.9V161.9M467.8 156.1V164.5M468.2 157.3V166.4M468.8 158.5V168.3M469.2 159.7V168.4M469.8 160.9V169.9M469.8 169.4V176.4M470.2 162.1V169.4M470.2 168.9V169.7M470.8 163.3V171.6M471.2 164.6V172.3M471.8 165.8V172.0M472.2 167.0V175.6M472.8 168.2V174.5M473.2 169.4V177.6M473.8 168.8V177.8M474.2 169.9V177.3M474.8 171.0V178.1M475.2 172.2V183.4M475.8 173.3V184.2M476.2 174.4V185.2M476.8 175.6V185.2M477.2 176.7V189.0M477.8 177.9V190.4M477.8 189.9V193.7M478.2 179.0V192.0M478.8 180.1V193.5M479.2 181.3V195.4M479.8 182.2V190.5M480.2 183.3V191.2M480.8 184.5V191.3M483.1 142.7V146.4M486.6 151.4V157.0M487.6 151.4V166.1M494.9 37.7V84.0M495.4 37.7V87.4M495.9 37.7V84.9M496.4 37.7V87.7M496.9 37.7V85.5M497.4 37.7V87.3M497.9 37.7V86.6M498.4 37.7V84.7M498.4 84.2V85.4M498.9 37.7V87.3M499.4 37.7V85.1M499.9 37.7V87.6M500.4 37.7V87.8M500.9 37.7V88.2M501.4 37.7V86.6M498.0 37.7V129.0" stroke="#000" stroke-width="1.0" fill="none"/>
<path d="M85.2 55.4V59.6M91.2 54.8V56.7M94.2 58.3V104.9M96.2 56.6V66.7M105.8 66.6V71.3M111.8 72.4V83.9M113.8 74.3V90.6M119.2 79.5V102.4M128.2 84.9V107.7M129.8 87.5V103.2M130.8 90.1V121.1M131.8 92.8V96.8M132.2 93.2V96.8M174.2 72.2V103.5M176.2 83.6V107.7M176.8 84.1V106.2M183.8 71.7V88.8M184.2 68.7V69.9M190.8 71.0V107.7M192.8 79.8V83.0M196.2 89.8V129.3M197.2 93.1V99.4M198.2 98.2V101.0M205.8 75.5V81.8M211.2 90.2V118.0M215.2 92.9V106.8M215.8 94.9V99.7M220.8 109.1V120.7M222.8 95.2V103.7M225.8 96.2V133.4M228.8 91.7V94.1M238.8 118.3V119.7M239.8 122.8V145.6M242.8 128.4V141.3M248.8 144.8V145.5M249.2 149.7V150.3M273.9 87.0V109.3M274.9 91.3V94.0M276.4 86.0V96.0M279.8 129.6V130.2M280.8 91.5V110.1M282.8 101.5V119.6M285.8 94.0V97.9M287.2 100.0V115.9M293.8 118.1V132.4M295.8 105.3V136.3M305.2 115.1V124.9M313.8 134.8V145.2M314.8 137.5V147.4M317.2 98.2V124.9M321.2 114.7V123.0M330.2 97.5V99.0M331.2 104.5V124.0M331.8 105.5V118.4M342.2 94.7V107.9M353.8 110.2V127.2M361.2 135.6V136.4M366.2 116.1V134.9M371.8 146.9V147.5M372.8 100.3V133.5M375.2 112.3V119.4M382.8 144.3V158.4M386.8 118.5V119.4M387.2 121.6V134.4M388.2 125.0V148.9M394.2 124.1V155.5M398.2 137.5V138.0M400.8 112.7V153.6M403.8 119.3V130.0M404.8 114.5V147.4M406.8 119.4V140.8M411.2 133.3V162.6M418.8 113.0V149.2M425.2 127.5V159.3M429.2 135.5V158.2M432.2 131.0V133.6M432.8 134.4V141.9M433.2 136.8V162.5M440.2 142.7V159.9M443.8 144.4V148.7M447.2 162.6V169.2M456.2 200.4V204.7M457.2 207.5V215.3M457.8 209.7V211.5M438.2 153.7V172.8M467.2 163.0V170.3M469.8 173.8V181.5M458.2 140.8V142.0M459.2 145.5V146.4M463.8 155.6V163.6M464.8 157.9V158.6M467.2 161.4V172.4M468.2 165.9V167.4M470.8 171.1V173.0M473.8 177.3V178.0M478.2 191.5V192.6M479.8 190.0V198.4M485.1 147.9V157.3M490.6 149.5V152.9M494.1 138.7V143.4M497.4 86.8V114.2" stroke="#000" stroke-width="0.8" fill="none"/>
<path d="M85.8 55.4V96.4M86.2 58.9V92.7M120.2 78.6V106.9M121.2 82.1V89.7M124.2 76.9V109.2M126.2 79.1V88.9M129.2 87.5V91.5M138.2 87.8V100.0M141.8 82.5V83.5M143.2 85.6V89.3M146.8 92.0V110.4M167.2 65.3V89.7M168.8 68.3V82.4M173.2 68.1V68.8M189.8 88.4V91.5M195.2 85.3V87.4M207.2 81.8V97.3M216.8 97.8V98.3M217.8 101.6V123.8M218.2 103.7V111.3M226.8 97.9V127.9M227.8 102.7V103.6M231.2 98.0V99.3M233.8 103.9V108.9M236.2 111.4V124.0M238.2 115.9V126.3M250.8 153.6V172.3M251.2 155.7V171.8M270.9 93.3V105.1M272.4 85.2V95.1M273.4 88.6V89.7M275.4 94.2V123.6M288.8 103.2V103.7M291.2 108.3V111.6M306.8 119.3V126.8M314.2 137.2V155.7M317.8 99.6V132.8M318.2 103.8V115.4M332.2 107.3V115.9M334.2 115.6V122.5M334.8 117.9V125.4M339.8 82.6V92.9M343.2 102.1V135.2M348.2 131.0V149.6M351.8 99.7V104.3M352.8 103.2V132.7M354.2 109.2V110.4M356.8 120.2V129.1M360.8 137.3V147.5M362.8 99.8V119.4M367.2 123.3V129.7M368.8 132.0V133.5M369.8 134.6V155.4M376.2 117.8V145.4M381.2 138.7V140.0M388.8 129.3V137.3M393.8 118.7V154.5M396.8 132.5V141.2M400.2 147.6V158.1M400.8 151.3V159.8M402.2 117.0V144.5M403.2 118.7V128.0M408.2 123.2V129.2M413.8 110.6V140.1M414.8 113.9V114.5M418.2 113.3V114.0M422.8 137.4V150.0M426.2 130.3V137.3M426.8 132.1V154.6M427.8 134.3V138.6M433.8 135.2V148.5M434.8 139.2V167.3M444.8 148.8V150.9M445.8 154.1V156.0M456.8 201.6V202.1M442.8 166.8V167.3M444.2 168.7V180.2M446.2 161.4V167.6M457.8 142.9V143.5M458.8 144.2V146.5M475.2 182.9V183.9M480.8 190.8V199.7M482.1 141.8V142.4M485.6 148.1V184.1M491.1 153.9V192.8M492.1 156.6V157.8M495.9 84.4V89.8" stroke="#000" stroke-width="0.6" fill="none"/>
<path d="M86.8 61.3V104.5M88.8 65.4V70.1M90.2 53.9V58.0M92.2 56.7V68.6M93.2 57.8V79.4M98.2 63.4V104.4M102.2 61.1V77.3M102.8 61.3V102.1M103.8 65.6V66.5M109.8 69.3V86.5M110.8 70.7V94.4M111.2 70.1V103.2M114.8 74.2V108.6M119.8 80.0V103.1M122.2 83.2V84.3M139.2 89.8V97.9M140.2 94.3V110.1M147.2 92.7V93.4M168.2 65.7V83.9M178.8 69.5V89.3M179.8 70.5V93.9M182.2 69.4V97.2M195.8 86.4V87.8M207.8 82.6V99.4M211.8 73.7V99.9M212.2 74.4V80.5M213.2 77.2V96.0M224.2 95.1V130.9M225.2 99.2V122.9M226.8 84.0V90.1M242.2 127.1V129.7M245.2 134.5V158.4M263.4 85.1V88.3M264.9 89.8V96.9M269.9 87.4V102.4M278.2 126.9V139.5M281.8 96.2V97.8M292.2 113.0V123.6M309.2 131.5V149.2M309.8 134.5V147.5M310.8 119.2V139.9M311.8 126.7V154.0M312.2 125.6V149.0M315.2 142.3V150.2M315.8 143.5V144.2M332.8 111.0V113.9M344.8 110.0V125.9M346.8 121.7V130.6M348.8 136.0V137.8M354.8 111.8V115.0M357.2 119.9V123.2M364.8 112.4V117.3M365.2 114.1V142.4M374.2 106.1V123.6M377.2 120.3V132.3M382.2 143.5V160.7M383.8 149.2V164.6M387.8 125.1V127.2M391.8 110.5V111.4M397.8 136.6V137.3M402.2 157.8V161.5M403.2 117.6V120.5M405.2 130.4V134.4M402.8 114.5V115.3M405.8 117.2V159.7M413.2 114.0V134.7M416.8 115.0V160.3M421.8 130.5V145.0M428.8 134.0V158.8M435.8 139.6V154.4M437.8 144.2V173.1M439.2 146.7V163.4M444.2 158.3V170.0M449.8 175.4V178.7M451.8 182.6V190.1M453.2 191.4V194.4M441.2 160.1V165.0M443.2 166.9V169.5M444.8 159.9V171.9M462.8 148.4V159.2M463.8 151.0V156.7M466.8 163.7V168.0M467.8 164.3V179.7M468.2 165.2V188.1M469.2 171.7V177.0M456.8 136.6V144.2M461.8 151.9V157.7M462.8 154.2V159.0M472.8 174.0V178.2M482.6 141.9V142.5M483.6 142.5V146.8M484.1 144.6V152.6M493.1 163.7V170.7M494.9 83.5V84.1M500.4 87.3V101.1" stroke="#000" stroke-width="1.3" fill="none"/>
<polyline points="85.0,37.0 104.5,37.0" stroke="#000" stroke-width="1.2" fill="none"/>
<polyline points="105.5,39.5 123.0,47.0" stroke="#000" stroke-width="1.2" fill="none"/>
<polyline points="123.0,47.0 140.5,50.0" stroke="#000" stroke-width="1.2" fill="none"/>
<polyline points="141.5,41.4 147.5,41.4" stroke="#000" stroke-width="1.2" fill="none"/>
<polyline points="166.0,44.0 173.0,46.0" stroke="#000" stroke-width="1.2" fill="none"/>
<polyline points="173.0,47.4 179.0,50.8 184.0,52.0 192.0,54.0 202.0,55.5 208.0,57.0 214.0,57.5" stroke="#000" stroke-width="1.2" fill="none"/>
<polyline points="212.0,57.5 228.0,69.0" stroke="#000" stroke-width="1.2" fill="none"/>
<polyline points="226.0,70.0 252.0,140.0" stroke="#000" stroke-width="1.2" fill="none"/>
<polyline points="261.7,61.0 278.0,65.6" stroke="#000" stroke-width="1.2" fill="none"/>
<polyline points="276.0,65.6 281.0,65.6" stroke="#000" stroke-width="1.2" fill="none"/>
<polyline points="280.0,70.0 316.0,109.0" stroke="#000" stroke-width="1.2" fill="none"/>
<polyline points="316.0,68.0 323.0,68.0" stroke="#000" stroke-width="1.2" fill="none"/>
<polyline points="328.0,69.6 336.0,69.6" stroke="#000" stroke-width="1.2" fill="none"/>
<polyline points="337.0,70.0 342.0,70.0" stroke="#000" stroke-width="1.2" fill="none"/>
<polyline points="342.0,72.0 344.0,75.0 357.0,75.6 367.0,77.7 376.0,81.0 382.0,83.7 390.0,87.7 399.0,93.0 406.0,98.5" stroke="#000" stroke-width="1.2" fill="none"/>
<polyline points="400.0,93.0 420.0,105.0" stroke="#000" stroke-width="1.2" fill="none"/>
<polyline points="420.0,105.0 445.0,133.0" stroke="#000" stroke-width="1.2" fill="none"/>
<polyline points="461.0,131.0 470.0,155.0" stroke="#000" stroke-width="1.2" fill="none"/>
<polyline points="456.0,129.0 481.0,185.0" stroke="#000" stroke-width="1.2" fill="none"/>
<polyline points="481.4,110.0 494.6,117.0" stroke="#000" stroke-width="1.2" fill="none"/>
<path d="M102.3 37.0V120.0M182.0 52.0V198.0M327.5 69.0V212.0M354.0 80.0V171.0M458.0 131.0V196.0" stroke="#000" stroke-width="1.5" fill="none"/>
<polyline points="144.5,42.0 147.0,50.0 150.0,75.0 155.4,130.0 156.7,150.0 161.3,200.0 166.0,260.0 167.0,285.0" stroke="#000" stroke-width="2.0" fill="none"/>
<polyline points="163.5,232.0 164.5,250.0" stroke="#000" stroke-width="3.0" fill="none"/>
<path d="M200.5 55.5V138.0" stroke="#000" stroke-width="1.8" fill="none"/>
<path d="M256.3 75.6V132.0" stroke="#000" stroke-width="2" fill="none"/>
<path d="M259.8 77.0V125.0" stroke="#000" stroke-width="1.6" fill="none"/>
<path d="M367.0 80.0V167.0M379.0 85.0V173.0M461.0 131.0V170.5" stroke="#000" stroke-width="1.2" fill="none"/>
<rect x="84.80" y="304.2" width="4.10" height="65.40000000000003" fill="#d2cdc8"/>
<rect x="88.60" y="304.2" width="1.50" height="65.40000000000003" fill="#a09a9a"/>
<rect x="89.80" y="304.2" width="2.60" height="65.40000000000003" fill="#d8b8c0"/>
<rect x="92.10" y="304.2" width="1.50" height="65.40000000000003" fill="#c09080"/>
<rect x="93.30" y="304.2" width="1.40" height="65.40000000000003" fill="#e0d090"/>
<rect x="94.40" y="304.2" width="2.00" height="65.40000000000003" fill="#b8d880"/>
<rect x="96.10" y="304.2" width="2.40" height="65.40000000000003" fill="#a0b090"/>
<rect x="98.20" y="304.2" width="1.70" height="65.40000000000003" fill="#8a9090"/>
<rect x="99.60" y="304.2" width="2.30" height="65.40000000000003" fill="#a8b8c8"/>
<rect x="101.60" y="304.2" width="1.20" height="65.40000000000003" fill="#404040"/>
<rect x="102.50" y="304.2" width="2.00" height="65.40000000000003" fill="#c0b060"/>
<rect x="104.20" y="304.2" width="2.10" height="65.40000000000003" fill="#3f5030"/>
<rect x="106.00" y="304.2" width="2.60" height="65.40000000000003" fill="#b0e0c8"/>
<rect x="108.30" y="304.2" width="33.00" height="65.40000000000003" fill="#6cc044"/>
<rect x="141.00" y="304.2" width="1.80" height="65.40000000000003" fill="#a8c8a0"/>
<rect x="142.50" y="304.2" width="1.80" height="65.40000000000003" fill="#a0a8d0"/>
<rect x="144.00" y="304.2" width="1.30" height="65.40000000000003" fill="#202040"/>
<rect x="145.00" y="304.2" width="1.30" height="65.40000000000003" fill="#f0d8d8"/>
<rect x="146.00" y="304.2" width="19.20" height="65.40000000000003" fill="#ef2020"/>
<rect x="164.90" y="304.2" width="2.20" height="65.40000000000003" fill="#607870"/>
<rect x="166.80" y="304.2" width="5.10" height="65.40000000000003" fill="#70c8d0"/>
<rect x="171.60" y="304.2" width="1.70" height="65.40000000000003" fill="#808090"/>
<rect x="173.00" y="304.2" width="2.30" height="65.40000000000003" fill="#605080"/>
<rect x="175.00" y="304.2" width="1.70" height="65.40000000000003" fill="#203050"/>
<rect x="176.40" y="304.2" width="2.70" height="65.40000000000003" fill="#6090a8"/>
<rect x="178.80" y="304.2" width="1.80" height="65.40000000000003" fill="#8090b0"/>
<rect x="180.30" y="304.2" width="4.10" height="65.40000000000003" fill="#4050a0"/>
<rect x="184.10" y="304.2" width="1.80" height="65.40000000000003" fill="#806080"/>
<rect x="185.60" y="304.2" width="1.70" height="65.40000000000003" fill="#c0c0c8"/>
<rect x="187.00" y="304.2" width="2.70" height="65.40000000000003" fill="#70a8e0"/>
<rect x="189.40" y="304.2" width="1.80" height="65.40000000000003" fill="#5080a0"/>
<rect x="190.90" y="304.2" width="1.70" height="65.40000000000003" fill="#a0b8d0"/>
<rect x="192.30" y="304.2" width="1.30" height="65.40000000000003" fill="#c0a070"/>
<rect x="193.30" y="304.2" width="2.20" height="65.40000000000003" fill="#709090"/>
<rect x="195.20" y="304.2" width="2.10" height="65.40000000000003" fill="#60a0a0"/>
<rect x="197.00" y="304.2" width="5.00" height="65.40000000000003" fill="#b0b0b8"/>
<rect x="201.70" y="304.2" width="3.20" height="65.40000000000003" fill="#905060"/>
<rect x="204.60" y="304.2" width="1.30" height="65.40000000000003" fill="#707080"/>
<rect x="205.60" y="304.2" width="1.20" height="65.40000000000003" fill="#404050"/>
<rect x="206.50" y="304.2" width="2.30" height="65.40000000000003" fill="#70b0d0"/>
<rect x="208.50" y="304.2" width="1.80" height="65.40000000000003" fill="#60a8d8"/>
<rect x="210.00" y="304.2" width="1.60" height="65.40000000000003" fill="#306080"/>
<rect x="211.30" y="304.2" width="2.30" height="65.40000000000003" fill="#60c0d0"/>
<rect x="213.30" y="304.2" width="2.20" height="65.40000000000003" fill="#80d0c0"/>
<rect x="215.20" y="304.2" width="45.50" height="65.40000000000003" fill="#f8f020"/>
<rect x="260.40" y="304.2" width="1.70" height="65.40000000000003" fill="#b0a860"/>
<rect x="261.80" y="304.2" width="2.30" height="65.40000000000003" fill="#6080a0"/>
<rect x="263.80" y="304.2" width="1.70" height="65.40000000000003" fill="#305070"/>
<rect x="265.20" y="304.2" width="1.30" height="65.40000000000003" fill="#c09090"/>
<rect x="266.20" y="304.2" width="3.10" height="65.40000000000003" fill="#b03040"/>
<rect x="269.00" y="304.2" width="1.80" height="65.40000000000003" fill="#6070a0"/>
<rect x="270.50" y="304.2" width="5.60" height="65.40000000000003" fill="#303080"/>
<rect x="275.80" y="304.2" width="1.70" height="65.40000000000003" fill="#606090"/>
<rect x="277.20" y="304.2" width="2.20" height="65.40000000000003" fill="#5058b0"/>
<rect x="279.10" y="304.2" width="5.60" height="65.40000000000003" fill="#8050b0"/>
<rect x="284.40" y="304.2" width="1.30" height="65.40000000000003" fill="#c08080"/>
<rect x="285.40" y="304.2" width="2.70" height="65.40000000000003" fill="#b03040"/>
<rect x="287.80" y="304.2" width="1.70" height="65.40000000000003" fill="#c09090"/>
<rect x="289.20" y="304.2" width="1.10" height="65.40000000000003" fill="#a05080"/>
<rect x="290.00" y="304.2" width="1.70" height="65.40000000000003" fill="#703050"/>
<rect x="291.40" y="304.2" width="2.70" height="65.40000000000003" fill="#b05080"/>
<rect x="293.80" y="304.2" width="4.20" height="65.40000000000003" fill="#d05890"/>
<rect x="297.70" y="304.2" width="1.30" height="65.40000000000003" fill="#705080"/>
<rect x="298.70" y="304.2" width="3.60" height="65.40000000000003" fill="#4060b0"/>
<rect x="302.00" y="304.2" width="1.80" height="65.40000000000003" fill="#8060a0"/>
<rect x="303.50" y="304.2" width="6.00" height="65.40000000000003" fill="#c050b0"/>
<rect x="309.20" y="304.2" width="1.80" height="65.40000000000003" fill="#909070"/>
<rect x="310.70" y="304.2" width="5.10" height="65.40000000000003" fill="#b8d840"/>
<rect x="315.50" y="304.2" width="1.20" height="65.40000000000003" fill="#a0a0a0"/>
<rect x="316.40" y="304.2" width="2.70" height="65.40000000000003" fill="#70c0d0"/>
<rect x="318.80" y="304.2" width="1.80" height="65.40000000000003" fill="#505060"/>
<rect x="320.30" y="304.2" width="7.50" height="65.40000000000003" fill="#f08070"/>
<rect x="327.50" y="304.2" width="1.30" height="65.40000000000003" fill="#d0a080"/>
<rect x="328.50" y="304.2" width="7.00" height="65.40000000000003" fill="#e0b890"/>
<rect x="335.20" y="304.2" width="1.10" height="65.40000000000003" fill="#b0b890"/>
<rect x="336.00" y="304.2" width="2.70" height="65.40000000000003" fill="#80c8c0"/>
<rect x="338.40" y="304.2" width="1.70" height="65.40000000000003" fill="#6080a0"/>
<rect x="339.80" y="304.2" width="2.70" height="65.40000000000003" fill="#403050"/>
<rect x="342.20" y="304.2" width="2.20" height="65.40000000000003" fill="#906070"/>
<rect x="344.10" y="304.2" width="11.40" height="65.40000000000003" fill="#f8c0c8"/>
<rect x="355.20" y="304.2" width="2.20" height="65.40000000000003" fill="#a0c0d0"/>
<rect x="357.10" y="304.2" width="1.80" height="65.40000000000003" fill="#3090a0"/>
<rect x="358.60" y="304.2" width="2.20" height="65.40000000000003" fill="#60a8b8"/>
<rect x="360.50" y="304.2" width="1.20" height="65.40000000000003" fill="#307090"/>
<rect x="361.40" y="304.2" width="6.60" height="65.40000000000003" fill="#70c8e0"/>
<rect x="367.70" y="304.2" width="1.30" height="65.40000000000003" fill="#7090a0"/>
<rect x="368.70" y="304.2" width="3.10" height="65.40000000000003" fill="#506080"/>
<rect x="371.50" y="304.2" width="2.70" height="65.40000000000003" fill="#806070"/>
<rect x="373.90" y="304.2" width="1.30" height="65.40000000000003" fill="#a0a0a8"/>
<rect x="374.90" y="304.2" width="4.60" height="65.40000000000003" fill="#f0f0f8"/>
<rect x="379.20" y="304.2" width="1.80" height="65.40000000000003" fill="#c8c8d0"/>
<rect x="380.70" y="304.2" width="1.20" height="65.40000000000003" fill="#506070"/>
<rect x="381.60" y="304.2" width="3.50" height="65.40000000000003" fill="#60c0c0"/>
<rect x="384.80" y="304.2" width="1.30" height="65.40000000000003" fill="#806888"/>
<rect x="385.80" y="304.2" width="2.70" height="65.40000000000003" fill="#604060"/>
<rect x="388.20" y="304.2" width="1.20" height="65.40000000000003" fill="#709080"/>
<rect x="389.10" y="304.2" width="1.80" height="65.40000000000003" fill="#90c0b8"/>
<rect x="390.60" y="304.2" width="1.20" height="65.40000000000003" fill="#6080a0"/>
<rect x="391.50" y="304.2" width="1.80" height="65.40000000000003" fill="#506090"/>
<rect x="393.00" y="304.2" width="1.70" height="65.40000000000003" fill="#80c0e0"/>
<rect x="394.40" y="304.2" width="1.80" height="65.40000000000003" fill="#808890"/>
<rect x="395.90" y="304.2" width="2.20" height="65.40000000000003" fill="#906878"/>
<rect x="397.80" y="304.2" width="1.70" height="65.40000000000003" fill="#80a8a8"/>
<rect x="399.20" y="304.2" width="4.70" height="65.40000000000003" fill="#60c8c8"/>
<rect x="403.60" y="304.2" width="2.70" height="65.40000000000003" fill="#704070"/>
<rect x="406.00" y="304.2" width="1.70" height="65.40000000000003" fill="#c0b0c0"/>
<rect x="407.40" y="304.2" width="2.20" height="65.40000000000003" fill="#804040"/>
<rect x="409.30" y="304.2" width="1.80" height="65.40000000000003" fill="#80a0a0"/>
<rect x="410.80" y="304.2" width="6.00" height="65.40000000000003" fill="#70c8c8"/>
<rect x="416.50" y="304.2" width="2.30" height="65.40000000000003" fill="#60b8c8"/>
<rect x="418.50" y="304.2" width="5.10" height="65.40000000000003" fill="#60c8d0"/>
<rect x="423.30" y="304.2" width="2.20" height="65.40000000000003" fill="#607890"/>
<rect x="425.20" y="304.2" width="1.70" height="65.40000000000003" fill="#80b8b8"/>
<rect x="426.60" y="304.2" width="1.60" height="65.40000000000003" fill="#809090"/>
<rect x="427.90" y="304.2" width="1.70" height="65.40000000000003" fill="#c0a8b0"/>
<rect x="429.30" y="304.2" width="1.80" height="65.40000000000003" fill="#604050"/>
<rect x="430.80" y="304.2" width="1.70" height="65.40000000000003" fill="#904040"/>
<rect x="432.20" y="304.2" width="2.70" height="65.40000000000003" fill="#b07070"/>
<rect x="434.60" y="304.2" width="1.30" height="65.40000000000003" fill="#804040"/>
<rect x="435.60" y="304.2" width="1.70" height="65.40000000000003" fill="#b07880"/>
<rect x="437.00" y="304.2" width="1.80" height="65.40000000000003" fill="#809888"/>
<rect x="438.50" y="304.2" width="1.20" height="65.40000000000003" fill="#c0d0c8"/>
<rect x="439.40" y="304.2" width="1.30" height="65.40000000000003" fill="#909898"/>
<rect x="440.40" y="304.2" width="4.60" height="65.40000000000003" fill="#60c8c0"/>
<rect x="444.70" y="304.2" width="1.30" height="65.40000000000003" fill="#909898"/>
<rect x="445.70" y="304.2" width="5.10" height="65.40000000000003" fill="#b03030"/>
<rect x="450.50" y="304.2" width="1.70" height="65.40000000000003" fill="#807080"/>
<rect x="451.90" y="304.2" width="1.30" height="65.40000000000003" fill="#90c0d0"/>
<rect x="452.90" y="304.2" width="6.50" height="65.40000000000003" fill="#60c8c0"/>
<rect x="459.10" y="304.2" width="2.20" height="65.40000000000003" fill="#7070a0"/>
<rect x="461.00" y="304.2" width="19.30" height="65.40000000000003" fill="#3858a8"/>
<rect x="480.00" y="304.2" width="1.80" height="65.40000000000003" fill="#101030"/>
<rect x="481.50" y="304.2" width="12.80" height="65.40000000000003" fill="#050008"/>
<rect x="494.00" y="304.2" width="1.30" height="65.40000000000003" fill="#406040"/>
<rect x="495.00" y="304.2" width="1.70" height="65.40000000000003" fill="#90b080"/>
<rect x="496.40" y="304.2" width="1.80" height="65.40000000000003" fill="#909090"/>
<rect x="497.90" y="304.2" width="3.20" height="65.40000000000003" fill="#8060a0"/>
<rect x="500.80" y="304.2" width="1.70" height="65.40000000000003" fill="#c0b0d0"/>
<rect x="84.80" y="368.80" width="417.40" height="1.20" fill="#111"/>
<g stroke="#3a6aa8" stroke-width="2.2" fill="none" stroke-linecap="round" stroke-linejoin="round"><line x1="322.6" y1="276.5" x2="322.6" y2="295"/><polyline points="317.8,287.8 322.6,296 327.4,287.8"/></g>
<line x1="68.6" y1="392.2" x2="68.6" y2="650" stroke="#222" stroke-width="1"/>
<line x1="61.39999999999999" y1="392.20" x2="68.6" y2="392.20" stroke="#222" stroke-width="1"/>
<text x="0" y="0" class="tk" transform="translate(57.8,393.40) rotate(-90)">1.0</text>
<line x1="61.39999999999999" y1="429.00" x2="68.6" y2="429.00" stroke="#222" stroke-width="1"/>
<text x="0" y="0" class="tk" transform="translate(57.8,430.20) rotate(-90)">0.9</text>
<line x1="61.39999999999999" y1="465.80" x2="68.6" y2="465.80" stroke="#222" stroke-width="1"/>
<text x="0" y="0" class="tk" transform="translate(57.8,467.00) rotate(-90)">0.8</text>
<line x1="61.39999999999999" y1="502.60" x2="68.6" y2="502.60" stroke="#222" stroke-width="1"/>
<text x="0" y="0" class="tk" transform="translate(57.8,503.80) rotate(-90)">0.7</text>
<line x1="61.39999999999999" y1="539.40" x2="68.6" y2="539.40" stroke="#222" stroke-width="1"/>
<text x="0" y="0" class="tk" transform="translate(57.8,540.60) rotate(-90)">0.6</text>
<line x1="61.39999999999999" y1="576.20" x2="68.6" y2="576.20" stroke="#222" stroke-width="1"/>
<text x="0" y="0" class="tk" transform="translate(57.8,577.40) rotate(-90)">0.5</text>
<line x1="61.39999999999999" y1="613.00" x2="68.6" y2="613.00" stroke="#222" stroke-width="1"/>
<text x="0" y="0" class="tk" transform="translate(57.8,614.20) rotate(-90)">0.4</text>
<line x1="61.39999999999999" y1="649.80" x2="68.6" y2="649.80" stroke="#222" stroke-width="1"/>
<text x="0" y="0" class="tk" transform="translate(57.8,651.00) rotate(-90)">0.3</text>
<text class="pl" x="20.0" y="387.9" style="font-size:16.8px">B</text>
<text class="lb" transform="translate(28.4,520) rotate(-90)">Height</text>
<text class="dt" transform="translate(75.4,692.5) rotate(-90)">Dynamic tree cut</text>
<line x1="93.5" y1="426.5" x2="93.5" y2="658.5" class="g"/>
<line x1="101.5" y1="500.0" x2="101.5" y2="658.5" class="g"/>
<line x1="109.5" y1="425.0" x2="109.5" y2="658.5" class="g"/>
<line x1="118.5" y1="460.0" x2="118.5" y2="658.5" class="g"/>
<line x1="126.5" y1="408.4" x2="126.5" y2="658.5" class="g"/>
<line x1="134.5" y1="520.0" x2="134.5" y2="658.5" class="g"/>
<line x1="143.5" y1="410.0" x2="143.5" y2="658.5" class="g"/>
<line x1="151.5" y1="410.0" x2="151.5" y2="658.5" class="g"/>
<line x1="159.5" y1="467.0" x2="159.5" y2="658.5" class="g"/>
<line x1="168.5" y1="413.0" x2="168.5" y2="658.5" class="g"/>
<line x1="176.5" y1="413.0" x2="176.5" y2="658.5" class="g"/>
<line x1="184.5" y1="413.0" x2="184.5" y2="658.5" class="g"/>
<line x1="193.5" y1="413.0" x2="193.5" y2="658.5" class="g"/>
<line x1="201.5" y1="415.7" x2="201.5" y2="658.5" class="g"/>
<line x1="209.5" y1="415.7" x2="209.5" y2="658.5" class="g"/>
<line x1="218.5" y1="419.0" x2="218.5" y2="658.5" class="g"/>
<line x1="226.5" y1="419.0" x2="226.5" y2="658.5" class="g"/>
<line x1="234.5" y1="420.0" x2="234.5" y2="658.5" class="g"/>
<line x1="243.5" y1="420.0" x2="243.5" y2="658.5" class="g"/>
<line x1="251.5" y1="420.0" x2="251.5" y2="658.5" class="g"/>
<line x1="259.5" y1="428.0" x2="259.5" y2="658.5" class="g"/>
<line x1="268.5" y1="428.0" x2="268.5" y2="658.5" class="g"/>
<line x1="276.5" y1="436.7" x2="276.5" y2="658.5" class="g"/>
<line x1="284.5" y1="440.0" x2="284.5" y2="658.5" class="g"/>
<line x1="293.5" y1="443.0" x2="293.5" y2="658.5" class="g"/>
<line x1="301.5" y1="424.0" x2="301.5" y2="658.5" class="g"/>
<line x1="309.5" y1="424.0" x2="309.5" y2="658.5" class="g"/>
<line x1="318.5" y1="429.0" x2="318.5" y2="658.5" class="g"/>
<line x1="326.5" y1="412.0" x2="326.5" y2="658.5" class="g"/>
<line x1="334.5" y1="412.0" x2="334.5" y2="658.5" class="g"/>
<line x1="343.5" y1="412.0" x2="343.5" y2="658.5" class="g"/>
<line x1="351.5" y1="441.0" x2="351.5" y2="658.5" class="g"/>
<line x1="359.5" y1="419.1" x2="359.5" y2="658.5" class="g"/>
<line x1="367.5" y1="420.2" x2="367.5" y2="658.5" class="g"/>
<line x1="376.5" y1="421.4" x2="376.5" y2="658.5" class="g"/>
<line x1="384.5" y1="422.5" x2="384.5" y2="658.5" class="g"/>
<line x1="392.5" y1="426.0" x2="392.5" y2="658.5" class="g"/>
<line x1="401.5" y1="426.0" x2="401.5" y2="658.5" class="g"/>
<line x1="409.5" y1="426.0" x2="409.5" y2="658.5" class="g"/>
<line x1="417.5" y1="436.0" x2="417.5" y2="658.5" class="g"/>
<line x1="426.5" y1="436.0" x2="426.5" y2="658.5" class="g"/>
<line x1="434.5" y1="455.0" x2="434.5" y2="658.5" class="g"/>
<line x1="442.5" y1="525.0" x2="442.5" y2="658.5" class="g"/>
<line x1="451.5" y1="560.0" x2="451.5" y2="658.5" class="g"/>
<line x1="459.5" y1="407.6" x2="459.5" y2="658.5" class="g"/>
<line x1="467.5" y1="407.6" x2="467.5" y2="658.5" class="g"/>
<line x1="476.5" y1="445.0" x2="476.5" y2="658.5" class="g"/>
<line x1="484.5" y1="472.0" x2="484.5" y2="658.5" class="g"/>
<line x1="492.5" y1="510.0" x2="492.5" y2="658.5" class="g"/>
<line x1="501.5" y1="560.0" x2="501.5" y2="658.5" class="g"/>
<path d="M124.2 421.9V437.5M177.6 411.5V438.9M180.6 422.6V435.3M187.1 424.9V439.8M201.1 424.8V447.2M208.1 421.2V441.9M210.8 430.3V445.1M231.8 423.4V452.6M232.8 418.5V453.1M267.8 454.7V467.6M277.8 452.7V466.7M289.2 445.1V475.3M295.8 455.4V489.7M296.2 454.0V484.4M306.1 438.4V458.7M316.2 434.4V451.1M326.1 417.6V428.7M336.6 420.9V435.0M344.6 413.6V437.5M352.8 449.2V455.6M353.2 447.3V457.4M358.9 422.9V439.1M359.4 422.7V437.8M371.9 436.2V451.4M374.4 426.2V448.0M377.9 431.9V455.9M382.4 430.3V457.9M384.9 440.1V464.8M414.4 441.0V454.7M421.4 452.9V457.3M453.8 514.7V533.7M460.9 433.9V505.1M467.9 427.5V508.5M473.2 407.3V510.7M481.8 452.5V522.0M491.8 498.5V534.8M494.2 511.2V529.9M495.2 511.1V530.5" stroke="#bbb" stroke-width="0.6" fill="none"/>
<path d="M100.5 504.2V507.5M102.5 525.2V556.6M125.7 425.4V432.0M157.4 452.1V466.9M179.6 419.9V441.6M180.1 420.0V437.1M182.6 437.3V451.6M187.6 445.3V446.3M210.2 427.9V443.1M215.2 424.9V454.4M218.2 427.0V454.9M227.2 447.9V452.9M232.2 429.8V450.7M233.2 430.3V449.4M234.2 433.5V454.4M237.2 458.0V466.8M247.8 442.5V466.9M260.2 458.2V458.7M262.8 424.9V459.8M265.2 442.8V460.7M266.2 445.2V464.1M266.8 445.5V465.6M278.2 455.1V470.7M286.8 469.5V470.7M290.2 439.7V466.7M297.2 494.0V498.6M304.6 458.9V462.7M306.6 457.1V466.6M337.6 420.6V437.8M339.6 433.2V434.3M340.1 429.9V434.5M349.2 437.1V449.6M353.8 456.8V464.7M355.9 424.1V433.8M361.9 440.1V447.9M364.9 426.4V445.8M367.4 440.8V448.5M373.9 430.2V451.7M374.9 453.0V456.5M379.9 428.9V448.7M380.4 435.0V455.4M381.4 437.1V452.0M393.1 427.0V447.5M402.6 469.4V470.4M418.4 450.5V453.5M420.9 449.0V462.3M423.4 457.7V461.3M432.9 485.5V493.3M438.4 468.5V484.0M439.9 482.4V488.6M445.8 480.7V499.3M451.2 506.2V516.8M454.2 517.9V535.5M454.8 522.7V539.7M461.9 441.4V504.2M468.9 394.4V509.0M469.8 446.2V505.2M490.8 490.3V532.9M492.8 509.4V526.7M495.8 516.1V530.6M496.2 514.0V529.4" stroke="#999" stroke-width="0.6" fill="none"/>
<path d="M126.7 433.1V449.7M164.4 497.7V519.2M180.6 434.8V444.3M181.1 436.5V437.3M215.2 453.9V455.4M223.2 454.7V458.8M224.2 452.4V459.6M279.2 470.2V478.3M294.2 476.9V479.7M301.1 442.1V445.0M302.1 448.2V449.3M326.6 425.4V425.9M336.1 440.2V443.4M337.1 434.2V444.9M338.1 437.0V445.9M423.9 466.7V470.5M432.9 492.8V494.0M433.9 473.1V476.0M444.2 488.5V517.0M455.9 505.7V526.3M467.9 508.0V510.3M491.2 534.9V543.0" stroke="#999" stroke-width="1.0" fill="none"/>
<path d="M165.9 504.6V506.2M187.1 439.3V446.2M191.1 446.1V448.2M207.6 439.4V448.3M211.2 445.5V448.6M250.2 467.4V468.1M290.2 475.2V476.7M342.1 434.9V437.8M350.2 453.7V455.0M365.4 438.4V439.1M365.9 442.7V453.9M382.4 457.4V469.0M403.1 470.2V470.9M403.6 469.1V471.3M406.6 484.9V489.1M454.8 539.2V564.5" stroke="#999" stroke-width="0.8" fill="none"/>
<path d="M193.1 450.1V455.3M267.2 460.8V465.5M271.2 455.6V457.3M275.8 465.9V473.6M307.6 461.0V471.5M375.4 450.5V461.4M389.1 437.2V439.8M408.6 488.1V493.3M459.4 503.6V504.2M460.9 504.6V523.5M464.4 513.3V514.0M491.8 534.3V537.0" stroke="#999" stroke-width="1.3" fill="none"/>
<path d="M92.0 455.6V471.2M102.0 520.2V531.0M168.6 431.2V434.5M217.2 452.7V462.9M229.8 450.7V451.7M281.8 459.4V464.1M290.8 473.3V481.2M292.2 467.9V475.3M309.6 464.9V466.8M341.1 434.3V443.8M359.9 433.7V438.4M380.9 452.5V464.3M400.6 467.0V473.7M412.9 448.4V451.4M427.9 474.9V481.4M429.4 481.3V482.3" stroke="#888" stroke-width="1.3" fill="none"/>
<path d="M119.7 423.2V424.1M160.9 469.3V489.7M190.6 448.0V451.3M194.6 433.5V439.6M199.6 447.1V449.8M256.8 453.2V456.6M275.2 464.8V472.9M289.2 474.8V480.9M383.4 457.3V465.3M395.1 454.9V456.3M397.6 460.2V461.6M477.8 515.0V541.0M484.8 520.1V521.4M495.8 530.1V547.8" stroke="#888" stroke-width="0.8" fill="none"/>
<path d="M122.2 432.8V448.6M142.6 425.7V438.1M178.6 434.9V438.1M211.8 444.6V445.8M217.8 453.6V460.8M239.2 448.0V448.6M243.2 461.2V461.7M256.2 449.4V451.5M306.1 458.2V459.4M385.9 463.2V465.7M401.1 464.5V472.1M431.9 486.8V494.1M456.9 504.7V516.7M460.4 506.9V508.4M489.2 531.5V550.4M492.2 536.0V537.7" stroke="#888" stroke-width="0.6" fill="none"/>
<path d="M170.6 431.9V434.1M189.1 448.9V458.9M205.1 439.3V443.9M232.8 452.6V453.3M239.8 455.0V457.5M244.2 458.0V461.9M268.2 466.4V473.2M308.6 460.8V471.1M321.8 458.2V459.3M322.2 462.0V463.1M358.4 433.2V433.9M389.6 444.5V445.3M407.1 486.9V492.5M407.6 487.2V487.8M413.9 451.3V457.1M418.4 453.0V453.8M449.8 516.2V517.6" stroke="#888" stroke-width="1.0" fill="none"/>
<path d="M121.2 410.3V423.3M139.1 408.5V419.5M155.4 435.5V437.3M177.1 417.1V436.3M191.1 422.8V446.6M208.6 424.4V438.3M246.8 442.4V463.8M247.2 445.2V459.6M279.2 465.6V470.7M285.8 455.8V467.0M290.2 460.1V475.7M290.8 452.1V473.8M309.1 445.6V462.4M310.6 452.9V469.2M313.8 438.4V452.4M315.8 433.6V454.7M322.2 443.3V462.5M330.1 415.4V434.5M348.1 430.7V437.8M349.8 441.6V451.4M365.4 423.2V438.9M372.4 426.7V448.9M373.4 424.0V450.0M395.1 442.3V455.4M395.6 441.0V454.2M397.1 436.4V458.6M399.6 446.6V463.1M400.1 450.2V466.0M406.1 472.5V477.7M406.6 478.5V485.4M418.9 447.4V455.5M423.9 458.6V467.2M424.9 464.4V470.6M437.4 470.7V483.3M446.2 485.7V499.4M447.2 488.5V503.7M448.8 493.0V511.6M453.2 512.5V527.6M460.4 429.6V507.4M485.2 459.4V522.1M491.2 487.1V535.4M492.2 501.7V536.5" stroke="#777" stroke-width="0.6" fill="none"/>
<path d="M448.6 500.0V570.0" stroke="#777" stroke-width="1" fill="none"/>
<path d="M86.0 571.0V618.0M96.0 473.9V498.6M117.2 393.0V470.0M143.1 431.4V436.2M148.1 433.8V436.5M150.6 432.3V450.4M165.4 497.1V504.7M173.1 435.4V446.0M173.6 430.2V451.6M177.6 438.4V444.0M181.6 440.9V444.1M195.6 440.0V445.0M208.1 441.4V451.6M208.6 437.8V443.6M240.2 453.2V454.5M267.8 467.1V467.8M283.2 459.0V461.1M283.8 465.3V468.3M288.8 470.0V482.9M297.8 489.5V490.1M349.6 438.8V451.2M375.9 453.0V461.0M376.9 449.6V461.4M377.4 453.7V457.9M378.4 452.2V462.4M417.4 455.3V455.9M474.8 512.3V518.2M475.8 511.5V522.7M479.8 518.1V541.8M485.8 525.8V544.5" stroke="#666" stroke-width="1.0" fill="none"/>
<path d="M95.0 464.4V534.0M141.1 428.8V441.1M193.1 430.9V431.8M221.8 450.6V455.3M222.8 451.1V452.4M226.8 457.4V459.1M241.8 455.3V461.5M242.2 457.8V461.2M262.8 459.3V462.4M265.2 460.2V461.3M332.1 439.6V440.2M338.6 434.0V434.7M353.2 456.9V470.9M361.4 442.5V447.2M366.9 442.5V443.3M438.4 483.5V489.0M480.2 520.1V538.8M493.2 528.1V544.7" stroke="#666" stroke-width="0.6" fill="none"/>
<path d="M138.6 422.8V433.3M149.6 431.3V445.1M154.9 433.8V436.7M157.9 453.5V469.2M166.9 510.9V523.8M174.6 431.6V439.5M175.6 436.3V438.2M192.6 452.4V460.6M205.6 435.1V435.9M225.2 454.9V455.8M248.8 467.8V471.0M255.2 485.0V491.2M269.2 465.4V466.2M271.8 456.6V463.9M305.1 454.2V469.4M319.2 452.1V454.0M327.6 431.2V438.1M332.6 440.1V440.6M345.6 431.7V439.1M429.9 479.9V491.9M453.2 527.1V540.4" stroke="#666" stroke-width="1.3" fill="none"/>
<path d="M192.6 433.8V442.2M220.2 457.7V458.6M233.2 448.9V454.1M258.8 456.6V457.8M261.8 458.7V469.1M262.2 454.9V458.0M320.8 457.9V459.2M343.1 433.0V441.5M362.9 437.0V442.4M363.9 440.3V443.6M368.4 441.8V444.7M444.8 493.6V494.5M492.8 526.2V541.0" stroke="#666" stroke-width="0.8" fill="none"/>
<path d="M115.8 393.0V480.0" stroke="#555" stroke-width="1.0" fill="none"/>
<path d="M128.2 428.4V438.4M192.1 426.1V449.6M192.1 412.8V436.0M202.1 423.0V448.5M213.8 422.2V450.4M242.8 440.3V458.6M248.2 447.8V466.4M251.8 461.0V469.7M254.2 479.2V484.9M286.2 458.6V466.6M289.8 451.9V475.5M290.8 440.3V463.3M293.8 443.7V476.3M344.1 414.9V430.7M393.6 432.2V448.1M420.4 449.5V460.9M421.9 458.6V465.0M424.4 453.7V463.7M428.4 463.0V473.9M432.4 479.4V491.6M434.9 456.7V477.7M436.9 467.4V477.9M439.4 476.7V485.5M449.8 495.4V516.7M452.2 510.9V522.1M459.4 421.6V504.1M461.4 412.3V504.0M465.9 393.3V514.7M469.2 440.5V507.2M472.2 427.1V512.5M481.2 441.6V520.5M486.2 474.6V525.8M486.8 461.1V525.6" stroke="#555" stroke-width="0.6" fill="none"/>
<path d="M88.5 444.1V482.0M122.7 432.8V436.3M145.6 437.2V443.0M159.4 462.2V488.5M179.6 441.1V445.9M192.1 435.5V439.5M194.1 437.8V446.1M232.2 450.2V450.8M252.8 477.1V477.9M261.2 454.1V456.8M325.2 462.7V463.5M371.9 450.9V452.4M392.1 444.6V447.2M412.4 451.9V459.2M465.4 516.3V535.2M470.2 508.1V515.4" stroke="#444" stroke-width="0.8" fill="none"/>
<path d="M98.5 484.3V528.7M124.7 437.0V440.2M158.9 458.0V474.3M164.9 500.3V502.3M190.1 445.6V446.7M209.2 441.1V456.0M237.8 453.2V458.6M309.1 461.9V471.1M318.8 453.5V454.5M330.6 436.1V439.1M335.6 437.5V448.9M346.1 433.0V435.9M350.8 449.4V467.8M397.1 458.1V463.1M401.6 465.9V468.9M411.4 448.8V449.4M428.4 473.4V480.3M458.4 506.6V519.0" stroke="#444" stroke-width="1.0" fill="none"/>
<path d="M101.5 515.7V548.8M130.7 446.4V447.2M145.1 431.3V445.3M155.4 436.8V439.4M156.9 446.4V450.3M218.2 454.4V455.0M229.2 443.7V448.6M302.6 449.2V462.6M307.1 458.1V458.7M317.8 457.5V458.8M324.8 457.3V458.7M335.1 441.5V442.9M351.2 449.1V459.5M364.4 443.2V451.9M374.4 447.5V459.7M398.6 463.7V469.1M416.4 453.9V458.6M424.9 470.1V475.0M449.2 510.7V517.4M459.9 505.5V517.2M468.9 508.5V515.2M469.8 504.7V526.6M481.8 521.5V526.8" stroke="#444" stroke-width="1.3" fill="none"/>
<path d="M139.6 424.2V437.3M175.1 437.8V449.6M188.6 449.2V451.5M197.1 437.7V445.5M246.8 463.3V472.9M259.2 454.1V463.4M264.8 460.7V461.7M291.2 476.8V480.9M303.1 452.1V458.6M304.1 456.7V465.2M354.9 433.8V442.2M430.4 480.9V484.7M432.4 491.1V495.4M461.9 503.7V528.0" stroke="#444" stroke-width="0.6" fill="none"/>
<path d="M86.0 392.6V571.0" stroke="#222" stroke-width="1.5" fill="none"/>
<path d="M466.5 393.0V617.0" stroke="#222" stroke-width="1.3" fill="none"/>
<path d="M113.4 393.0V540.0M118.5 393.0V599.0" stroke="#111" stroke-width="1.2" fill="none"/>
<path d="M442.5 393.0V523.6" stroke="#111" stroke-width="2.2" fill="none"/>
<path d="M86.0 392.6H498.0" stroke="#000" stroke-width="1.2" fill="none"/>
<path d="M118.7 396.3H325.6" stroke="#000" stroke-width="1.1" fill="none"/>
<path d="M343.0 400.3H441.0M191.0 400.3H229.0M208.0 405.0H274.0M274.0 407.4H294.0M239.0 411.5H255.0M292.0 405.5H312.0M292.0 408.4H300.0M396.0 418.6H410.0M410.0 421.7H440.0M416.0 426.8H440.0M161.5 431.0H167.6M443.0 393.6H480.6M161.0 430.0H167.0M348.5 428.0H354.6M349.0 446.5H354.0M415.0 426.5H440.0M426.0 439.0H436.0M429.0 448.0H438.0" stroke="#000" stroke-width="1.0" fill="none"/>
<path d="M87.0 393.1V438.6M87.5 393.2V442.7M88.0 393.4V441.6M88.5 393.6V444.6M89.0 394.8V447.2M89.0 446.7V486.7M89.5 396.6V447.8M90.0 398.3V450.9M90.5 400.0V449.1M91.0 401.8V450.6M91.5 403.5V453.7M91.5 453.2V473.0M92.0 405.2V456.1M92.5 407.1V456.4M93.0 410.5V456.6M93.5 413.9V457.8M94.0 417.2V458.8M94.5 420.6V463.9M95.0 423.9V464.9M95.5 427.7V468.0M95.5 467.5V473.3M96.0 432.0V474.4M96.5 436.3V479.8M97.0 440.6V488.5M97.5 445.0V493.8M98.0 451.3V499.1M98.5 457.6V484.8M99.0 463.8V490.9M99.5 470.1V496.9M100.0 476.4V499.9M100.5 482.7V504.7M101.0 489.4V510.7M101.5 496.1V516.2M102.0 504.5V520.7M102.5 516.9V525.7M119.7 393.6V423.7M120.2 394.2V424.5M120.7 394.9V421.8M121.2 395.5V404.4M121.2 422.8V424.9M121.7 396.1V402.8M122.2 396.8V433.3M122.7 397.4V433.3M123.2 398.1V434.8M123.7 398.8V434.5M124.2 399.8V406.8M124.2 437.0V451.9M124.7 401.2V413.2M125.2 399.6V431.7M125.7 401.4V425.9M126.2 403.3V431.3M126.7 405.6V433.6M127.2 408.0V430.2M127.2 429.7V455.0M127.7 410.8V436.8M128.2 413.7V425.7M128.7 416.9V428.9M128.7 438.2V449.1M129.2 420.3V437.3M129.2 436.8V446.2M129.7 424.0V439.2M130.2 427.8V438.3M130.2 437.8V460.2M130.7 432.0V446.9M138.1 395.0V419.4M138.6 395.3V407.2M139.1 395.5V406.8M139.6 395.8V424.7M140.1 396.0V421.9M140.6 396.3V421.8M141.1 396.5V429.3M141.6 396.7V428.4M142.1 397.0V431.1M142.6 397.2V426.2M143.1 397.5V431.9M143.6 397.7V427.4M144.1 398.0V434.2M144.6 398.2V432.4M145.1 398.5V431.8M145.6 398.7V437.7M146.1 395.8V403.0M146.1 424.4V437.4M146.6 395.9V407.0M147.1 396.0V431.7M147.6 396.1V434.3M148.1 396.2V434.3M148.6 396.8V403.5M149.1 397.3V408.8M149.6 397.9V431.8M150.1 398.5V438.3M150.6 399.1V432.8M151.1 399.6V408.0M151.6 400.2V412.3M144.0 420.0V446.0M151.9 401.6V415.9M152.4 405.0V421.3M152.4 420.8V437.4M152.9 408.3V425.5M153.4 411.7V428.4M153.9 415.0V428.8M154.4 418.4V429.8M154.9 421.8V434.3M155.4 425.1V435.5M155.9 428.5V444.9M156.4 431.9V448.9M156.9 435.2V446.9M157.4 436.8V452.6M157.9 440.1V454.0M158.4 443.5V455.7M158.4 455.2V482.9M158.9 446.8V458.5M159.4 450.1V462.7M159.9 453.4V464.6M160.4 456.7V470.0M160.9 460.0V469.8M161.4 463.3V474.5M161.4 474.0V486.4M161.9 466.7V473.9M162.4 468.9V481.1M162.9 472.2V485.5M163.4 475.5V490.1M163.9 478.8V489.9M164.4 482.1V498.2M164.9 485.4V500.8M165.4 488.7V497.6M165.9 492.0V505.1M166.4 494.5V505.2M166.9 497.7V509.4M152.2 420.0V542.0M168.1 398.0V424.9M168.6 399.1V431.7M169.1 400.2V427.3M169.1 426.8V431.9M169.6 401.2V428.8M170.1 402.3V429.3M170.6 403.4V432.4M171.1 404.5V428.2M171.6 405.5V431.7M172.1 406.6V433.7M172.6 398.6V433.0M172.6 432.5V444.2M173.1 399.8V435.9M173.6 401.0V430.7M174.1 402.3V436.7M174.6 403.5V432.1M175.1 404.8V438.3M175.6 406.0V436.8M176.1 407.3V434.1M176.6 408.5V434.3M177.1 399.1V405.4M177.6 399.9V410.8M178.1 400.7V435.8M178.1 435.3V450.9M178.6 401.5V435.4M179.1 402.3V410.2M179.6 403.1V414.5M180.1 403.9V416.7M180.6 404.7V417.2M181.1 405.5V437.0M181.6 406.3V441.4M182.1 407.1V436.9M182.6 408.0V437.8M183.1 408.8V422.2M183.6 409.6V445.5M184.1 410.4V443.0M184.1 442.5V447.0M184.6 411.2V446.8M185.1 400.1V442.4M185.6 400.9V442.8M186.1 401.7V439.4M186.6 402.6V441.9M187.1 403.4V411.7M187.6 404.3V445.8M188.1 405.1V447.8M188.1 447.3V448.6M188.6 406.0V449.7M189.1 406.8V449.4M189.6 407.6V448.0M190.1 408.5V446.1M190.6 409.3V418.3M191.1 410.2V417.9M191.6 411.0V450.6M192.1 411.9V420.4M192.6 412.7V452.9M193.1 413.5V450.6M193.6 414.4V421.1M191.6 400.7V433.1M192.1 401.1V409.7M192.6 401.4V412.9M193.1 401.8V431.4M193.6 402.1V431.5M194.1 402.5V413.6M194.6 402.8V414.8M195.1 403.2V437.9M195.6 403.5V440.5M196.1 403.9V438.9M196.1 438.4V447.5M196.6 404.2V441.6M197.1 404.6V438.2M197.6 404.9V437.1M198.1 405.3V440.5M198.6 405.6V442.4M199.1 405.9V439.8M199.1 439.3V453.4M199.6 406.3V447.6M200.1 406.6V443.8M200.6 407.0V446.8M200.6 446.3V448.8M201.1 407.3V417.8M201.1 446.7V448.7M201.6 407.7V418.3M202.1 408.0V419.8M202.1 448.0V448.8M202.6 408.4V418.7M203.1 408.7V447.1M203.6 409.1V442.8M203.6 442.3V448.8M204.1 409.4V445.2M204.6 401.0V438.9M205.1 401.1V439.8M205.6 402.2V435.6M206.1 403.2V442.2M206.6 404.2V439.0M206.6 438.5V439.5M207.1 405.3V437.1M207.6 406.3V439.9M208.1 407.4V420.3M208.6 408.4V418.9M209.1 409.5V438.9M207.2 404.1V440.4M207.8 404.4V443.9M208.2 404.6V444.9M208.2 444.4V452.0M208.8 404.9V445.4M208.8 444.9V445.5M209.2 405.2V418.6M209.8 405.5V442.9M209.8 442.4V451.6M210.2 405.8V417.6M210.8 406.1V416.1M211.2 406.4V413.6M211.8 406.7V418.6M212.2 407.0V450.0M212.8 407.3V450.7M213.2 407.6V449.2M213.8 407.9V415.0M214.2 408.2V421.9M214.8 408.5V418.2M214.8 452.3V453.4M215.2 408.8V421.5M215.8 409.1V456.6M216.2 409.5V455.0M216.2 454.5V459.6M216.8 410.0V459.5M217.2 410.4V453.2M217.8 411.2V454.1M218.2 412.1V422.8M218.8 413.1V457.0M219.2 414.3V456.8M219.8 415.6V459.2M220.2 417.0V458.2M220.8 418.6V457.0M220.8 456.5V457.0M221.2 420.2V458.6M221.8 416.6V451.1M222.2 418.6V452.3M222.8 420.5V451.6M223.2 422.7V455.2M223.8 424.9V458.3M224.2 427.1V452.9M224.8 429.6V452.3M225.2 432.2V455.4M225.8 434.8V456.2M226.2 437.6V452.8M226.8 440.4V457.9M227.2 405.1V448.4M227.8 405.5V444.6M228.2 405.9V446.3M228.8 406.4V444.4M229.2 406.8V444.2M229.8 407.2V451.2M230.2 407.7V445.3M230.8 408.1V445.4M231.2 408.5V446.9M231.2 446.4V452.9M231.8 409.0V415.4M232.2 409.4V421.2M232.8 409.8V418.4M233.2 410.3V423.3M233.8 410.7V453.7M234.2 411.1V424.7M234.2 453.9V455.0M234.8 411.5V420.4M235.2 412.0V454.4M235.8 412.4V452.3M236.2 412.8V453.3M236.8 413.3V453.7M236.8 453.2V456.1M237.2 413.7V458.5M237.8 408.6V453.7M238.2 409.2V450.0M238.8 409.9V448.8M238.8 448.3V460.8M239.2 411.0V448.5M239.8 412.5V455.5M240.2 414.0V453.7M240.8 415.6V452.8M241.2 417.1V452.1M241.2 451.6V459.8M241.8 418.7V455.8M242.2 420.2V458.3M242.8 421.8V435.2M243.2 423.3V431.8M243.8 424.9V459.3M243.8 458.8V465.5M244.2 426.4V458.5M244.8 428.0V439.2M245.2 429.5V436.7M245.8 431.0V463.6M246.2 424.9V461.8M246.8 427.2V436.8M247.2 429.4V439.8M247.8 431.7V438.6M248.2 433.9V442.5M248.8 436.2V468.3M249.2 438.4V468.6M249.8 440.7V467.1M249.8 466.6V477.1M250.2 443.0V467.9M250.8 445.2V465.6M251.2 447.5V457.1M251.8 449.7V458.4M251.8 469.2V471.7M252.2 451.5V477.7M252.8 453.6V477.6M253.2 456.8V480.0M253.8 461.3V470.2M253.8 475.7V491.4M254.2 466.7V473.7M254.8 473.2V482.5M255.2 480.5V485.5M255.8 488.8V490.3M256.2 413.1V425.4M256.8 413.4V420.0M257.2 413.7V426.1M257.8 414.0V450.9M258.2 414.3V452.6M258.2 452.1V463.7M258.8 414.5V457.1M259.2 414.8V454.6M259.8 415.1V454.5M260.2 415.4V458.7M260.8 415.7V459.8M260.8 459.3V466.9M261.2 416.0V454.6M261.8 416.3V459.2M262.2 416.6V423.2M262.8 416.9V424.0M263.2 418.2V457.7M263.8 420.7V460.5M264.2 423.2V457.3M264.8 425.7V434.9M265.2 428.1V440.1M265.8 430.6V464.4M266.2 433.1V439.3M266.8 435.6V444.4M267.2 438.0V449.4M267.8 440.5V447.4M268.2 442.4V466.9M268.8 446.6V463.6M268.8 463.1V473.4M269.2 453.9V465.9M269.8 464.0V465.5M270.8 421.8V430.7M271.2 422.1V431.9M271.8 422.3V457.1M272.2 422.6V455.9M272.8 422.9V462.0M272.8 461.5V470.4M273.2 423.1V458.1M273.8 423.4V436.5M274.2 423.9V434.7M274.2 463.4V468.0M274.8 424.6V462.0M275.2 426.1V465.3M275.8 428.0V466.4M276.2 430.3V462.1M276.8 433.2V465.4M277.2 436.5V466.0M277.8 440.1V451.6M278.2 444.3V451.7M278.2 470.2V471.3M278.8 448.8V466.8M279.2 453.5V464.8M279.8 458.9V468.1M280.8 425.2V459.6M280.8 459.1V468.4M281.2 425.9V462.9M281.8 426.6V459.9M282.2 427.3V459.7M282.8 428.0V464.9M283.2 428.8V459.5M283.8 430.1V465.8M284.2 432.1V461.9M284.8 434.7V464.5M285.2 438.0V464.3M285.8 441.9V455.3M285.8 466.5V478.1M286.2 446.3V453.9M286.8 451.3V470.0M287.8 428.7V464.8M288.2 430.1V473.0M288.8 431.5V470.5M289.2 432.9V443.0M289.8 434.3V445.7M290.2 435.8V447.5M290.8 437.2V446.2M291.2 438.6V477.3M291.8 440.0V476.4M290.2 428.3V439.7M290.8 429.1V437.5M291.2 429.9V466.0M291.2 465.5V472.9M291.8 430.7V470.3M291.8 469.8V473.3M292.2 431.5V468.4M292.8 432.3V474.2M292.8 473.7V478.1M293.2 433.1V472.2M293.8 433.9V440.5M294.2 434.6V477.4M294.8 435.4V478.2M295.2 436.2V480.3M295.8 437.0V450.4M296.2 437.8V444.9M296.8 438.6V490.0M297.2 439.4V494.5M297.8 440.2V490.0M298.2 441.0V497.2M298.8 439.7V493.4M301.1 409.2V442.6M301.6 409.8V447.6M301.6 447.1V455.3M302.1 410.4V448.7M302.6 411.0V449.7M303.1 411.6V452.6M303.6 412.0V452.1M304.1 412.4V457.2M304.6 413.2V459.4M305.1 414.0V454.7M305.6 415.1V424.3M306.1 416.3V429.0M306.6 417.6V457.6M307.1 419.2V458.6M307.6 420.7V461.5M308.1 422.6V459.1M308.6 424.5V433.0M309.1 426.5V433.0M309.6 428.7V465.4M310.1 431.0V463.3M310.6 433.5V443.1M311.1 433.4V440.9M311.1 462.9V473.6M311.6 436.5V459.6M312.1 439.6V459.2M312.1 458.7V460.3M313.2 414.1V448.5M313.8 414.5V427.1M314.2 414.9V450.2M314.8 415.3V452.3M315.2 415.7V448.5M315.8 416.0V428.8M316.2 416.4V424.3M316.2 450.6V460.0M316.8 416.8V453.1M317.2 417.2V455.8M317.8 417.6V458.0M318.2 418.0V457.8M318.8 418.4V454.0M319.2 418.8V452.6M319.8 419.2V457.8M319.8 457.3V462.1M320.2 419.6V458.4M320.8 420.1V458.4M321.2 420.5V455.7M321.8 420.9V458.7M322.2 421.4V427.6M322.8 421.8V429.6M323.2 422.2V460.0M323.8 422.7V459.7M324.2 423.1V463.2M324.8 423.6V457.8M325.2 424.0V463.2M325.6 397.0V429.8M326.1 397.3V406.9M326.1 428.2V429.3M326.6 397.5V425.9M327.1 397.7V425.5M327.1 425.0V434.2M327.6 398.0V431.7M328.1 398.2V433.0M328.6 398.4V435.4M329.1 398.7V433.1M329.6 398.9V433.6M329.6 433.1V434.0M330.1 399.2V406.0M330.6 399.4V411.1M331.1 399.6V440.4M331.1 439.9V445.8M331.6 399.9V440.7M332.1 400.1V440.1M332.6 400.3V440.6M333.1 400.6V438.3M333.6 400.8V442.5M334.1 401.0V440.7M334.6 401.3V439.0M335.1 401.5V442.0M335.6 401.7V438.0M336.1 402.0V410.9M336.6 402.2V415.0M337.1 402.4V434.7M337.6 402.7V416.1M338.1 402.9V411.0M338.6 403.1V434.5M339.1 399.2V432.6M339.6 399.4V433.7M340.1 399.6V430.4M340.6 399.8V432.4M341.1 399.9V434.8M341.6 400.1V413.3M342.1 400.3V407.0M342.6 400.5V432.7M343.1 400.7V433.5M343.6 400.8V436.0M344.1 401.1V409.9M344.6 401.6V411.4M345.1 402.6V433.5M345.6 403.8V432.2M346.1 405.4V433.5M346.6 407.3V435.4M347.1 409.5V435.4M347.6 412.0V440.4M348.1 414.7V426.4M348.6 417.7V430.5M349.1 421.0V437.4M349.6 424.6V439.3M348.8 426.6V448.5M349.2 427.8V434.4M349.8 428.9V437.6M350.2 430.1V454.2M350.8 431.3V449.9M351.2 432.5V449.6M351.8 433.7V451.2M352.2 434.8V455.7M352.8 436.0V447.8M353.2 437.2V446.9M353.8 438.4V457.3M354.2 439.6V457.6M354.9 403.5V434.3M355.4 403.9V433.9M355.9 404.3V416.9M356.4 404.8V411.6M356.9 405.2V432.1M357.4 405.6V434.2M357.9 406.0V431.0M358.4 406.4V433.7M358.9 406.9V413.7M359.4 407.3V415.2M359.9 407.7V434.2M360.4 408.1V434.0M360.9 408.6V439.4M361.4 409.0V443.0M361.9 409.4V440.6M362.4 409.8V441.9M362.4 441.4V446.6M362.9 410.2V437.5M363.4 410.7V438.0M363.9 411.1V440.8M364.4 411.5V443.7M364.9 411.9V422.2M364.9 445.3V450.0M365.4 412.3V422.1M365.9 407.6V443.2M366.4 408.0V438.7M366.9 408.4V443.0M367.4 408.8V441.3M367.9 409.3V440.7M368.4 409.7V423.2M368.9 410.1V419.9M369.4 410.5V442.9M369.9 410.9V445.0M370.4 411.3V447.3M370.4 446.8V451.8M370.9 411.8V444.1M370.9 443.6V453.3M371.4 412.2V448.2M371.9 412.6V424.7M372.4 413.0V425.1M372.9 413.4V421.2M372.9 451.5V459.3M373.4 413.9V421.2M373.9 414.3V425.0M374.4 414.7V423.4M374.9 415.1V453.5M375.4 415.5V451.0M375.9 415.9V453.5M376.4 416.3V453.5M376.9 416.8V450.1M377.4 417.5V454.2M377.9 418.1V429.4M378.4 418.8V452.7M378.9 419.7V453.7M379.4 414.3V453.1M379.9 415.0V426.8M380.4 415.9V429.2M380.9 416.7V427.7M381.4 417.6V426.7M381.9 418.7V432.1M382.4 419.7V426.5M382.9 420.8V454.9M383.4 422.0V457.8M383.9 423.2V457.5M384.4 424.5V458.6M384.9 425.7V435.3M385.4 427.2V461.1M385.9 428.6V463.7M386.4 430.0V466.3M386.9 431.6V472.1M387.4 433.1V444.2M387.9 434.7V475.1M388.6 411.1V439.5M389.1 411.6V437.7M389.6 412.0V445.0M390.1 412.5V445.1M390.6 412.9V442.9M390.6 442.4V448.5M391.1 413.4V445.8M391.6 413.8V446.9M392.1 414.4V445.1M392.6 415.7V448.9M393.1 417.0V423.4M393.6 418.3V431.2M394.1 419.7V451.0M394.6 421.0V453.4M395.1 422.3V432.9M395.6 423.6V434.2M396.1 425.0V453.2M396.1 452.7V453.6M396.6 426.3V453.8M397.1 427.6V434.1M397.6 428.9V442.8M398.1 430.2V461.2M398.6 431.6V464.2M399.1 432.9V461.5M399.1 461.0V461.6M399.6 434.2V446.6M400.1 435.7V446.3M400.1 465.5V470.7M400.6 432.8V467.5M401.1 435.7V449.1M401.6 438.6V452.5M402.1 441.5V470.1M402.6 444.4V469.9M403.1 447.3V470.7M403.6 450.2V469.6M404.1 453.1V470.0M404.1 469.5V472.7M404.6 456.0V477.9M405.1 458.7V479.8M405.6 459.7V479.2M406.1 461.2V470.1M406.6 463.2V472.3M407.1 465.7V487.4M407.6 468.8V487.7M408.1 472.2V486.9M408.6 476.0V488.5M409.1 480.4V487.4M409.6 485.1V494.1M410.1 490.1V495.2M410.6 495.6V497.1M410.9 421.2V452.5M411.4 421.7V449.3M411.9 422.3V447.1M412.4 423.2V452.4M412.9 424.3V448.9M413.4 425.4V448.5M413.9 426.4V451.8M414.4 427.5V436.0M414.9 428.6V449.5M415.4 429.7V440.9M415.9 430.8V457.3M416.4 431.8V454.4M416.9 432.9V455.1M417.4 434.0V455.8M417.9 435.1V455.1M418.4 436.1V448.5M418.9 437.2V443.8M419.4 438.3V457.6M419.9 439.4V458.9M420.4 440.5V448.1M420.4 460.4V467.1M420.9 441.5V447.6M421.4 442.6V449.1M421.9 443.7V456.1M422.4 444.8V463.1M422.9 441.2V461.5M423.4 442.3V455.7M423.4 460.8V463.2M423.9 443.3V454.2M424.4 444.4V450.7M424.4 463.2V477.1M424.9 445.4V458.7M425.4 446.1V465.6M425.9 446.6V471.0M426.4 447.3V468.9M426.9 448.3V470.0M427.4 449.4V472.7M427.9 450.7V475.4M428.4 452.2V458.3M428.9 453.9V463.8M429.4 455.6V481.8M429.9 457.7V480.4M430.4 459.7V481.4M430.9 462.1V483.0M431.4 464.5V489.3M431.9 467.1V487.3M432.4 469.8V478.6M432.9 472.7V483.8M433.4 475.7V491.7M433.9 440.2V473.6M434.4 440.7V473.4M434.4 472.9V475.0M434.9 441.7V452.6M435.4 442.9V475.6M435.9 444.5V473.6M436.4 446.4V479.9M436.9 448.5V458.2M437.4 451.0V460.2M437.9 453.5V487.8M437.9 487.3V493.9M438.4 456.6V465.6M438.9 459.7V467.6M439.4 463.2V474.1M439.9 466.9V479.7M440.4 470.7V489.4M440.4 488.9V495.2M444.2 472.8V489.0M447.8 483.2V506.2M447.8 505.7V531.8M448.2 484.8V508.8M450.2 491.5V517.4M450.8 494.4V522.6M450.8 522.1V550.6M451.8 519.4V521.8M452.2 521.6V522.1M452.8 506.0V523.7M452.8 523.2V555.7M454.2 535.0V547.6M455.2 520.6V542.6M455.8 523.5V540.9M455.9 392.6V506.2M456.4 392.6V506.8M456.9 392.6V505.2M457.4 392.6V506.1M457.4 505.6V519.8M457.9 392.6V504.4M457.9 503.9V515.4M458.4 392.6V507.1M462.4 392.6V506.3M462.9 392.6V506.0M463.4 392.6V509.7M463.9 392.6V512.6M463.9 512.1V514.3M464.4 392.6V513.8M466.9 392.6V507.7M467.4 392.6V505.8M470.2 397.9V508.6M471.8 401.4V511.2M472.2 512.0V530.0M473.8 406.1V509.6M474.2 407.2V510.4M474.8 408.4V512.8M475.2 409.9V514.2M475.8 411.6V512.0M476.2 413.3V513.2M476.2 512.7V536.6M476.8 415.0V516.2M476.8 515.7V518.4M477.2 416.7V514.8M478.8 421.9V517.1M479.2 423.6V519.2M479.8 425.3V518.6M480.2 427.0V520.6M480.8 428.7V521.1M481.2 520.0V524.1M482.2 434.3V524.4M482.2 523.9V529.0M482.8 437.0V524.7M482.8 524.2V543.1M483.2 439.7V526.0M483.8 442.3V525.5M484.2 445.0V520.9M484.8 447.7V520.6M487.8 463.7V530.1M488.2 466.5V530.8M488.8 469.5V531.3M489.2 472.5V532.0M489.8 475.5V530.5M493.8 499.5V529.4M493.8 528.9V544.0M500.0 400.0V560.0M497.0 500.0V579.5" stroke="#000" stroke-width="1.0" fill="none"/>
<path d="M87.0 438.1V459.3M90.5 448.6V503.0M91.0 450.1V463.4M97.5 493.3V524.2M101.0 510.2V529.2M121.7 426.1V427.9M126.2 430.8V441.4M129.7 438.7V451.1M141.6 427.9V441.7M142.1 430.6V443.3M148.6 431.8V434.7M151.1 434.0V452.7M151.6 440.3V442.8M154.4 429.3V433.7M160.4 469.5V480.6M166.4 507.7V519.8M170.1 428.8V447.9M174.1 436.2V436.7M184.6 446.3V460.6M185.1 441.9V444.8M185.6 442.3V454.5M186.6 441.4V445.7M189.6 447.5V448.0M191.6 450.1V450.9M192.1 449.1V456.3M193.6 450.9V451.8M193.6 431.0V432.3M198.6 441.9V451.5M203.1 446.6V454.9M213.8 449.9V451.4M218.8 456.5V463.2M225.8 455.7V458.9M228.8 443.9V457.4M230.8 444.9V446.4M235.2 453.9V463.0M238.2 449.5V451.3M250.8 465.1V472.1M251.2 470.7V481.7M253.2 479.5V488.2M255.8 489.8V490.4M263.2 457.2V466.8M265.8 463.9V467.9M270.8 459.3V464.5M273.8 457.9V472.3M274.8 461.5V462.7M276.2 461.6V466.4M281.2 462.4V463.8M282.2 459.2V463.5M282.8 464.4V465.7M286.2 466.1V474.2M291.8 475.9V490.8M290.8 462.8V463.5M295.8 489.2V494.7M296.2 483.9V488.2M310.1 462.8V467.7M313.2 448.0V455.5M316.8 452.6V453.5M331.6 440.2V443.8M334.1 440.2V441.1M342.6 432.2V435.2M344.6 437.0V440.4M346.6 434.9V440.4M348.1 437.3V448.4M348.8 448.0V463.8M349.8 450.9V471.0M354.2 457.1V470.0M355.4 433.4V439.1M358.9 438.6V445.5M360.4 433.5V440.3M363.4 437.5V448.3M369.4 442.4V443.4M371.4 447.7V453.7M373.9 451.2V460.0M376.4 453.0V457.3M378.9 453.2V456.4M379.4 452.6V455.0M380.4 454.9V457.0M381.4 451.5V453.1M391.1 445.3V447.5M392.6 448.4V453.1M393.1 447.0V451.6M404.6 477.4V480.5M406.1 477.2V482.0M409.1 486.9V492.3M410.6 496.6V497.4M410.9 452.0V454.3M411.9 446.6V447.7M418.9 455.0V456.7M421.4 456.8V468.5M421.9 464.5V465.0M431.4 488.8V493.8M433.4 491.2V498.3M435.4 475.1V476.1M437.4 482.8V491.5M438.9 486.4V498.3M445.2 493.7V506.7M450.2 516.9V520.3M456.4 506.3V511.9M458.9 504.8V523.1M463.4 509.2V515.9M464.9 512.4V521.3M465.9 514.2V521.8M467.4 505.3V511.7M471.2 510.3V525.0M473.2 510.2V513.9M474.2 509.9V517.1M475.2 513.7V518.7M479.2 518.7V530.4M483.2 525.5V544.2M486.2 525.3V539.5M488.8 530.8V546.1M495.2 530.0V540.4" stroke="#000" stroke-width="0.8" fill="none"/>
<path d="M87.5 442.2V442.7M94.0 458.3V459.0M98.0 498.6V506.6M128.2 437.9V457.7M140.6 421.3V425.0M144.1 433.7V440.7M147.1 431.2V443.1M147.6 433.8V448.2M150.1 437.8V440.8M152.9 425.0V451.7M156.4 448.4V449.2M159.9 464.1V465.3M168.1 424.4V428.1M169.6 428.3V433.5M176.1 433.6V454.3M177.1 435.8V441.1M200.1 443.3V444.0M201.6 441.9V451.0M212.2 449.5V458.6M215.8 456.1V462.7M216.8 459.0V463.3M219.2 456.3V457.7M223.8 457.8V458.9M226.2 452.3V453.0M227.8 444.1V451.8M231.8 452.1V459.3M235.8 451.8V458.5M245.2 464.4V465.1M247.2 459.1V472.8M254.2 484.4V489.3M254.8 482.0V491.7M257.2 451.2V460.7M257.8 450.4V455.9M272.2 455.4V467.5M273.2 457.6V460.7M277.2 465.5V474.6M277.8 466.2V468.4M284.8 464.0V464.7M287.8 464.3V464.8M288.2 472.5V478.3M290.2 466.2V470.3M293.8 475.8V481.8M296.8 489.5V500.1M298.8 492.9V503.4M303.6 451.6V464.1M313.8 451.9V460.4M318.2 457.3V462.8M320.2 457.9V468.2M323.2 459.5V460.5M325.6 429.3V438.9M328.1 432.5V433.5M328.6 434.9V438.1M329.1 432.6V442.4M330.1 434.0V435.2M334.6 438.5V439.8M339.1 432.1V441.4M343.6 435.5V436.3M345.1 433.0V436.6M351.8 450.7V455.4M357.4 433.7V434.3M367.9 440.2V455.2M369.9 444.5V445.3M377.9 455.4V459.9M379.9 448.2V449.8M382.9 454.4V460.8M393.6 447.6V448.4M415.9 456.8V458.9M416.9 454.6V460.1M420.9 461.8V468.0M426.4 468.4V471.3M428.9 481.0V487.4M430.9 482.5V484.3M435.9 473.1V480.0M448.8 511.1V533.0M455.8 540.4V566.7M461.4 503.5V515.5M466.9 507.2V509.6M478.8 516.6V521.9M483.8 525.0V542.3M484.2 520.4V521.5M490.8 532.4V543.7M494.2 529.4V540.6" stroke="#000" stroke-width="0.6" fill="none"/>
<path d="M90.0 450.4V523.4M92.5 455.9V458.5M93.0 456.1V523.0M94.5 463.4V529.9M96.5 479.3V479.9M99.0 490.4V496.2M100.0 499.4V500.0M109.6 393.0V641.7M111.6 393.0V562.0M120.2 424.0V425.3M120.7 421.3V422.6M123.2 434.3V437.6M123.7 434.0V441.8M140.1 421.4V431.7M146.6 432.6V435.5M151.9 415.4V425.0M153.4 427.9V430.0M153.9 428.3V455.8M161.9 481.7V482.4M162.9 485.0V507.0M163.4 489.6V495.2M171.1 427.7V445.0M183.6 445.0V449.8M186.1 438.9V448.8M165.5 430.0V521.0M195.1 437.4V447.4M197.6 436.6V451.4M202.6 444.6V446.6M204.6 438.4V442.3M207.1 436.6V437.9M207.8 443.4V449.9M213.2 448.7V457.3M222.2 451.8V459.3M224.8 451.8V459.0M228.2 445.8V448.6M233.8 453.2V461.5M234.8 453.2V460.7M242.8 458.1V458.6M245.8 463.1V463.6M247.8 466.4V468.4M249.2 468.1V473.3M259.8 454.0V466.9M264.2 456.8V472.8M266.8 465.1V469.2M279.8 467.6V468.5M284.2 461.4V472.4M293.2 471.7V472.2M294.8 477.7V482.1M314.8 451.8V460.7M317.2 455.3V456.0M322.8 460.7V468.6M336.6 434.5V438.6M340.6 431.9V433.6M341.6 430.3V443.1M344.1 430.2V430.9M352.2 455.2V471.4M352.8 455.1V472.1M356.4 430.2V434.6M360.9 438.9V441.0M366.4 438.2V448.5M368.9 442.4V453.5M372.4 448.4V452.5M383.9 457.0V464.9M384.4 458.1V462.0M385.4 460.6V462.8M386.4 465.8V469.1M387.4 471.1V481.8M387.9 474.6V483.4M388.6 439.0V444.8M395.6 453.7V456.7M405.1 479.3V480.9M408.1 486.4V496.2M413.4 448.0V455.0M414.9 449.0V449.6M415.4 456.6V464.4M425.4 465.1V467.8M434.9 477.2V479.9M448.2 508.3V522.8M466.4 504.4V511.9M468.4 507.7V512.8M469.2 506.7V526.7M471.8 510.7V513.3M472.8 509.7V523.7M480.8 520.6V532.6M487.8 529.6V541.8M489.8 530.0V550.7M490.2 531.6V537.3" stroke="#000" stroke-width="1.3" fill="none"/>
<polyline points="100.0,480.0 102.0,530.0 105.5,612.8" stroke="#000" stroke-width="1.2" fill="none"/>
<polyline points="119.4,393.4 131.0,393.4" stroke="#000" stroke-width="1.2" fill="none"/>
<polyline points="137.8,395.0 151.7,395.0" stroke="#000" stroke-width="1.2" fill="none"/>
<polyline points="167.8,398.0 194.0,398.0" stroke="#000" stroke-width="1.2" fill="none"/>
<polyline points="191.3,400.7 209.3,400.7" stroke="#000" stroke-width="1.2" fill="none"/>
<polyline points="207.0,404.0 227.0,404.0" stroke="#000" stroke-width="1.2" fill="none"/>
<polyline points="227.0,405.0 256.0,405.0" stroke="#000" stroke-width="1.2" fill="none"/>
<polyline points="256.0,413.0 270.0,413.0" stroke="#000" stroke-width="1.2" fill="none"/>
<polyline points="270.5,421.7 280.0,421.7" stroke="#000" stroke-width="1.2" fill="none"/>
<polyline points="280.5,425.0 287.0,425.0" stroke="#000" stroke-width="1.2" fill="none"/>
<polyline points="300.8,409.0 312.3,409.0" stroke="#000" stroke-width="1.2" fill="none"/>
<polyline points="313.0,414.0 325.4,414.0" stroke="#000" stroke-width="1.2" fill="none"/>
<polyline points="325.4,397.0 350.0,397.0" stroke="#000" stroke-width="1.2" fill="none"/>
<polyline points="354.6,403.4 388.0,408.0" stroke="#000" stroke-width="1.2" fill="none"/>
<polyline points="388.3,411.0 410.6,411.0" stroke="#000" stroke-width="1.2" fill="none"/>
<polyline points="410.6,421.0 433.7,421.0" stroke="#000" stroke-width="1.2" fill="none"/>
<polyline points="444.0,436.0 450.0,490.0 453.0,540.0 453.0,577.0" stroke="#000" stroke-width="1.2" fill="none"/>
<path d="M105.6 393.0V512.0M352.0 428.0V535.0M498.0 393.0V547.0" stroke="#000" stroke-width="1.5" fill="none"/>
<path d="M107.6 393.0V512.0" stroke="#000" stroke-width="1.4" fill="none"/>
<polyline points="122.2,420.0 122.7,491.0" stroke="#000" stroke-width="1.7" fill="none"/>
<polyline points="129.5,426.0 131.5,470.0 134.0,520.0 138.8,591.0" stroke="#000" stroke-width="1.3" fill="none"/>
<path d="M138.8 395.0V564.0M168.3 398.0V448.0M314.6 410.0V520.6M349.0 428.0V516.0M459.0 393.0V534.0M478.7 450.0V551.5" stroke="#000" stroke-width="1.2" fill="none"/>
<path d="M267.0 418.0H287.0M270.0 420.5H280.0M280.0 425.0H286.0M285.0 427.0H300.0M288.0 429.0H298.0M293.0 442.0H297.0" stroke="#000" stroke-width="0.9" fill="none"/>
<path d="M446.0 485.0H452.0M448.0 490.0H455.0M450.0 496.0H456.0" stroke="#000" stroke-width="0.8" fill="none"/>
<rect x="85.30" y="660.2" width="1.70" height="66.0" fill="#e8d0e0"/>
<rect x="86.70" y="660.2" width="1.30" height="66.0" fill="#b070a0"/>
<rect x="87.70" y="660.2" width="17.10" height="66.0" fill="#c450a8"/>
<rect x="104.50" y="660.2" width="1.30" height="66.0" fill="#d8c0d0"/>
<rect x="105.50" y="660.2" width="6.10" height="66.0" fill="#c8c8d0"/>
<rect x="111.30" y="660.2" width="1.20" height="66.0" fill="#e8c8d0"/>
<rect x="112.20" y="660.2" width="2.70" height="66.0" fill="#c05060"/>
<rect x="114.60" y="660.2" width="4.20" height="66.0" fill="#a01828"/>
<rect x="118.50" y="660.2" width="1.70" height="66.0" fill="#e0a090"/>
<rect x="119.90" y="660.2" width="1.70" height="66.0" fill="#906040"/>
<rect x="121.30" y="660.2" width="18.90" height="66.0" fill="#6cc040"/>
<rect x="139.90" y="660.2" width="1.30" height="66.0" fill="#907040"/>
<rect x="140.90" y="660.2" width="1.70" height="66.0" fill="#e0a070"/>
<rect x="142.30" y="660.2" width="1.30" height="66.0" fill="#a09050"/>
<rect x="143.30" y="660.2" width="1.70" height="66.0" fill="#e0c080"/>
<rect x="144.70" y="660.2" width="3.20" height="66.0" fill="#80a880"/>
<rect x="147.60" y="660.2" width="1.30" height="66.0" fill="#a08040"/>
<rect x="148.60" y="660.2" width="1.20" height="66.0" fill="#f0d080"/>
<rect x="149.50" y="660.2" width="5.60" height="66.0" fill="#f8a830"/>
<rect x="154.80" y="660.2" width="14.30" height="66.0" fill="#f88070"/>
<rect x="168.80" y="660.2" width="2.70" height="66.0" fill="#f8d8d0"/>
<rect x="171.20" y="660.2" width="1.70" height="66.0" fill="#e8c090"/>
<rect x="172.60" y="660.2" width="18.90" height="66.0" fill="#050508"/>
<rect x="191.20" y="660.2" width="1.70" height="66.0" fill="#f0f0a0"/>
<rect x="192.60" y="660.2" width="2.70" height="66.0" fill="#e8f080"/>
<rect x="195.00" y="660.2" width="4.60" height="66.0" fill="#f8e060"/>
<rect x="199.30" y="660.2" width="1.80" height="66.0" fill="#f0f0d0"/>
<rect x="200.80" y="660.2" width="2.70" height="66.0" fill="#c0c0e0"/>
<rect x="203.20" y="660.2" width="1.20" height="66.0" fill="#8090b0"/>
<rect x="204.10" y="660.2" width="1.80" height="66.0" fill="#90c090"/>
<rect x="205.60" y="660.2" width="2.20" height="66.0" fill="#708090"/>
<rect x="207.50" y="660.2" width="5.10" height="66.0" fill="#4070c0"/>
<rect x="212.30" y="660.2" width="2.20" height="66.0" fill="#307080"/>
<rect x="214.20" y="660.2" width="3.20" height="66.0" fill="#206030"/>
<rect x="217.10" y="660.2" width="8.80" height="66.0" fill="#98d088"/>
<rect x="225.60" y="660.2" width="1.70" height="66.0" fill="#f0d0a0"/>
<rect x="227.00" y="660.2" width="1.80" height="66.0" fill="#c0a0c0"/>
<rect x="228.50" y="660.2" width="2.20" height="66.0" fill="#e0c0c0"/>
<rect x="230.40" y="660.2" width="1.70" height="66.0" fill="#a07840"/>
<rect x="231.80" y="660.2" width="1.80" height="66.0" fill="#e0c080"/>
<rect x="233.30" y="660.2" width="4.10" height="66.0" fill="#f8d860"/>
<rect x="237.10" y="660.2" width="1.80" height="66.0" fill="#f09070"/>
<rect x="238.60" y="660.2" width="16.10" height="66.0" fill="#f02020"/>
<rect x="254.40" y="660.2" width="1.80" height="66.0" fill="#a06040"/>
<rect x="255.90" y="660.2" width="1.70" height="66.0" fill="#c0c080"/>
<rect x="257.30" y="660.2" width="2.70" height="66.0" fill="#a0a060"/>
<rect x="259.70" y="660.2" width="1.30" height="66.0" fill="#808880"/>
<rect x="260.70" y="660.2" width="1.40" height="66.0" fill="#304040"/>
<rect x="261.80" y="660.2" width="2.80" height="66.0" fill="#c8c870"/>
<rect x="264.30" y="660.2" width="1.80" height="66.0" fill="#808060"/>
<rect x="265.80" y="660.2" width="5.10" height="66.0" fill="#f8c0d0"/>
<rect x="270.60" y="660.2" width="1.70" height="66.0" fill="#f8d0a0"/>
<rect x="272.00" y="660.2" width="5.60" height="66.0" fill="#f8f010"/>
<rect x="277.30" y="660.2" width="1.80" height="66.0" fill="#808040"/>
<rect x="278.80" y="660.2" width="20.90" height="66.0" fill="#3858a8"/>
<rect x="299.40" y="660.2" width="1.80" height="66.0" fill="#c0d0f0"/>
<rect x="300.90" y="660.2" width="11.10" height="66.0" fill="#e8f8fc"/>
<rect x="311.70" y="660.2" width="3.20" height="66.0" fill="#ffffff"/>
<rect x="314.60" y="660.2" width="6.60" height="66.0" fill="#f8f8e8"/>
<rect x="320.90" y="660.2" width="1.20" height="66.0" fill="#9090c0"/>
<rect x="321.80" y="660.2" width="2.30" height="66.0" fill="#6068a8"/>
<rect x="323.80" y="660.2" width="1.70" height="66.0" fill="#d0d0e0"/>
<rect x="325.20" y="660.2" width="2.20" height="66.0" fill="#b0a080"/>
<rect x="327.10" y="660.2" width="1.80" height="66.0" fill="#708070"/>
<rect x="328.60" y="660.2" width="4.10" height="66.0" fill="#b0a060"/>
<rect x="332.40" y="660.2" width="1.70" height="66.0" fill="#809090"/>
<rect x="333.80" y="660.2" width="4.70" height="66.0" fill="#70c8d0"/>
<rect x="338.20" y="660.2" width="1.70" height="66.0" fill="#a0e0e0"/>
<rect x="339.60" y="660.2" width="2.70" height="66.0" fill="#60a8a8"/>
<rect x="342.00" y="660.2" width="1.80" height="66.0" fill="#707080"/>
<rect x="343.50" y="660.2" width="10.20" height="66.0" fill="#a8a4a8"/>
<rect x="353.40" y="660.2" width="4.10" height="66.0" fill="#80c0c8"/>
<rect x="357.20" y="660.2" width="2.20" height="66.0" fill="#907880"/>
<rect x="359.10" y="660.2" width="1.80" height="66.0" fill="#b0b8b8"/>
<rect x="360.60" y="660.2" width="2.20" height="66.0" fill="#70b0b8"/>
<rect x="362.50" y="660.2" width="1.70" height="66.0" fill="#506060"/>
<rect x="363.90" y="660.2" width="1.80" height="66.0" fill="#90c0c0"/>
<rect x="365.40" y="660.2" width="1.70" height="66.0" fill="#709898"/>
<rect x="366.80" y="660.2" width="2.30" height="66.0" fill="#b0b8c0"/>
<rect x="368.80" y="660.2" width="1.70" height="66.0" fill="#606050"/>
<rect x="370.20" y="660.2" width="3.10" height="66.0" fill="#b8c080"/>
<rect x="373.00" y="660.2" width="13.80" height="66.0" fill="#b8d840"/>
<rect x="386.50" y="660.2" width="1.80" height="66.0" fill="#a0a050"/>
<rect x="388.00" y="660.2" width="1.70" height="66.0" fill="#80b0a0"/>
<rect x="389.40" y="660.2" width="1.80" height="66.0" fill="#803040"/>
<rect x="390.90" y="660.2" width="1.70" height="66.0" fill="#904040"/>
<rect x="392.30" y="660.2" width="3.70" height="66.0" fill="#c05050"/>
<rect x="395.70" y="660.2" width="1.20" height="66.0" fill="#a03050"/>
<rect x="396.60" y="660.2" width="1.10" height="66.0" fill="#a050a0"/>
<rect x="397.40" y="660.2" width="12.30" height="66.0" fill="#9050a8"/>
<rect x="409.40" y="660.2" width="1.80" height="66.0" fill="#a0b0d0"/>
<rect x="410.90" y="660.2" width="2.20" height="66.0" fill="#709888"/>
<rect x="412.80" y="660.2" width="3.20" height="66.0" fill="#90d0c0"/>
<rect x="415.70" y="660.2" width="1.70" height="66.0" fill="#505858"/>
<rect x="417.10" y="660.2" width="4.60" height="66.0" fill="#70c8c8"/>
<rect x="421.40" y="660.2" width="2.70" height="66.0" fill="#807870"/>
<rect x="423.80" y="660.2" width="1.80" height="66.0" fill="#a0d0c8"/>
<rect x="425.30" y="660.2" width="8.50" height="66.0" fill="#60c8c8"/>
<rect x="433.50" y="660.2" width="1.20" height="66.0" fill="#909090"/>
<rect x="434.40" y="660.2" width="5.10" height="66.0" fill="#b02828"/>
<rect x="439.20" y="660.2" width="2.20" height="66.0" fill="#803040"/>
<rect x="441.10" y="660.2" width="1.80" height="66.0" fill="#506080"/>
<rect x="442.60" y="660.2" width="1.10" height="66.0" fill="#a0d0e0"/>
<rect x="443.40" y="660.2" width="12.80" height="66.0" fill="#70c8e0"/>
<rect x="455.90" y="660.2" width="1.70" height="66.0" fill="#5080b0"/>
<rect x="457.30" y="660.2" width="5.10" height="66.0" fill="#4070b0"/>
<rect x="462.10" y="660.2" width="1.80" height="66.0" fill="#e0c0c0"/>
<rect x="463.60" y="660.2" width="4.10" height="66.0" fill="#f89030"/>
<rect x="467.40" y="660.2" width="1.70" height="66.0" fill="#8090b0"/>
<rect x="468.80" y="660.2" width="1.80" height="66.0" fill="#c0c8d8"/>
<rect x="470.30" y="660.2" width="1.50" height="66.0" fill="#7080a0"/>
<rect x="471.50" y="660.2" width="2.80" height="66.0" fill="#302050"/>
<rect x="474.00" y="660.2" width="1.60" height="66.0" fill="#e0b0a0"/>
<rect x="475.30" y="660.2" width="1.70" height="66.0" fill="#a09080"/>
<rect x="476.70" y="660.2" width="2.70" height="66.0" fill="#a08068"/>
<rect x="479.10" y="660.2" width="2.20" height="66.0" fill="#d0b8a0"/>
<rect x="481.00" y="660.2" width="1.80" height="66.0" fill="#908080"/>
<rect x="482.50" y="660.2" width="1.80" height="66.0" fill="#806078"/>
<rect x="484.00" y="660.2" width="2.10" height="66.0" fill="#403048"/>
<rect x="485.80" y="660.2" width="1.80" height="66.0" fill="#d8b898"/>
<rect x="487.30" y="660.2" width="5.10" height="66.0" fill="#d8c098"/>
<rect x="492.10" y="660.2" width="4.20" height="66.0" fill="#282870"/>
<rect x="496.00" y="660.2" width="1.70" height="66.0" fill="#3090a0"/>
<rect x="497.40" y="660.2" width="4.60" height="66.0" fill="#40c0c8"/>
<rect x="85.30" y="725.30" width="416.40" height="1.20" fill="#111"/>
<g stroke="#3a6aa8" stroke-width="2.2" fill="none" stroke-linecap="round" stroke-linejoin="round"><line x1="131.4" y1="629.8" x2="131.4" y2="648.5"/><polyline points="126.6,641.2 131.4,649.5 136.2,641.2"/></g>
<rect x="1" y="1" width="518" height="743" fill="none" stroke="#808080" stroke-width="2"/>
</svg></body></html>
